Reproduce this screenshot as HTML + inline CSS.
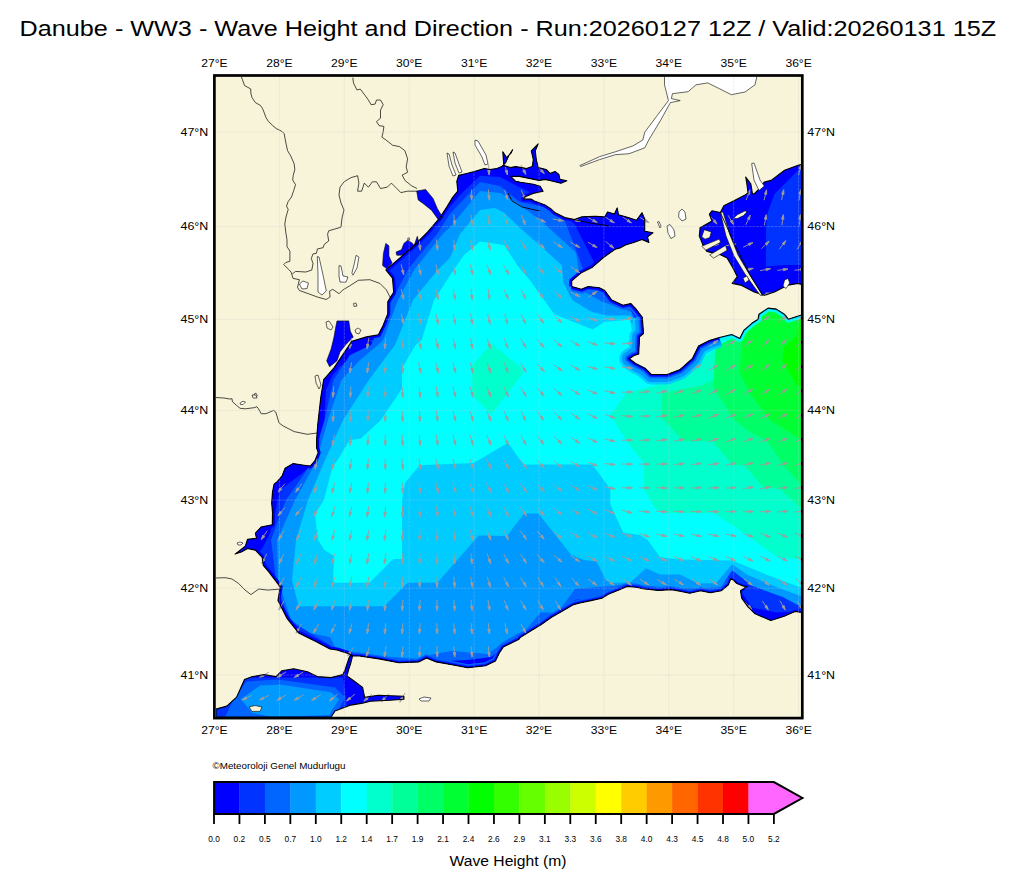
<!DOCTYPE html>
<html><head><meta charset="utf-8"><style>
html,body{margin:0;padding:0;background:#fff;width:1016px;height:888px;overflow:hidden;position:relative;}
</style></head><body>
<svg width="1016" height="888" viewBox="0 0 1016 888" style="position:absolute;left:0;top:0" font-family="Liberation Sans, sans-serif">
<defs><clipPath id="mapc"><rect x="215.8" y="77" width="585.3" height="639.7"/></clipPath>
<clipPath id="seac"><polygon points="351.0,656.0 349.7,654.0 337.0,650.0 330.0,649.0 316.3,641.7 298.6,632.9 286.8,618.1 278.0,600.4 280.2,586.8 269.0,572.1 263.3,565.4 262.2,557.5 255.4,550.1 247.5,548.5 241.9,551.8 235.1,554.1 245.3,546.2 247.5,539.4 256.5,538.3 255.4,533.2 261.1,527.0 272.3,524.8 272.5,512.4 271.7,503.0 272.5,492.0 274.1,484.1 277.2,481.7 282.0,476.2 285.1,468.3 293.0,463.6 304.0,465.2 310.3,466.0 315.0,460.5 318.2,452.6 316.6,447.9 316.6,440.0 317.8,424.0 320.8,397.4 323.7,379.7 334.0,367.9 351.8,341.3 366.5,336.9 378.4,334.8 383.1,325.4 387.8,313.6 387.8,301.7 390.3,297.6 393.7,292.3 392.5,278.1 385.9,269.9 399.7,258.1 415.4,244.3 427.2,232.5 439.1,218.7 446.9,206.9 452.8,197.1 457.8,191.2 456.8,181.3 458.7,175.4 466.6,173.5 474.5,171.5 484.3,168.5 490.0,169.5 496.9,168.5 501.8,166.6 505.7,162.6 508.7,155.7 512.6,149.8 511.2,152.8 506.7,157.7 502.8,151.8 503.8,165.6 510.7,167.6 515.6,166.6 521.5,167.6 526.4,168.5 532.3,166.6 533.3,159.7 531.3,150.8 538.2,143.9 535.3,150.8 536.3,159.7 538.2,167.6 546.1,169.5 550.0,173.5 555.0,171.5 558.9,174.4 559.9,179.4 566.8,180.8 560.9,183.3 553.0,181.3 545.1,179.4 539.2,180.4 529.4,178.4 519.5,176.4 510.7,176.4 515.6,181.3 520.5,182.3 533.3,184.3 540.2,186.3 543.1,191.2 534.3,193.1 529.4,195.1 524.4,197.1 523.5,199.1 531.3,199.1 534.3,201.0 545.1,205.0 551.0,208.9 555.2,212.8 564.8,217.6 574.4,219.6 581.3,216.9 595.1,216.2 604.8,216.9 607.5,212.0 614.4,214.1 617.2,207.9 618.5,214.8 628.2,217.6 636.5,220.3 642.0,212.7 644.7,218.9 644.7,231.3 653.0,232.7 647.5,236.9 648.9,242.4 642.0,239.6 633.7,242.4 625.4,245.1 619.9,247.9 615.1,249.3 603.4,257.5 592.4,267.2 581.3,272.7 571.7,280.9 571.7,286.5 581.3,289.2 588.2,286.5 599.3,287.8 604.8,290.6 611.7,300.0 623.0,305.2 630.9,303.6 636.0,309.0 642.3,317.3 643.5,333.5 639.5,336.7 638.7,354.0 634.0,355.6 629.3,358.7 635.6,363.5 645.0,368.2 651.3,374.5 667.1,374.5 679.7,369.8 692.3,358.7 698.6,346.1 709.4,340.5 719.5,337.5 731.7,334.5 739.8,338.5 743.8,330.4 751.9,323.3 758.0,319.3 759.0,314.2 768.1,308.1 776.3,309.1 784.4,314.2 788.4,319.3 800.6,315.2 803.0,315.0 803.0,612.6 795.0,611.4 784.1,616.3 770.8,620.5 755.1,613.8 747.8,606.6 741.7,598.1 740.5,590.8 746.6,586.6 743.0,586.0 736.9,583.6 733.3,580.0 730.8,578.7 728.4,584.8 721.2,590.8 710.3,592.7 700.6,590.8 689.7,593.3 680.0,591.2 671.2,589.6 658.6,590.4 642.8,588.8 636.5,587.2 627.1,586.5 617.6,590.4 608.2,594.3 601.9,598.3 590.9,600.6 579.8,603.0 573.5,604.6 562.5,610.9 551.5,617.2 540.5,625.0 532.6,629.8 520.0,637.6 519.0,639.2 503.2,647.1 499.3,653.0 495.4,660.9 485.5,665.8 467.8,667.8 452.0,664.8 436.3,661.9 426.5,657.9 418.6,661.9 398.9,662.8 379.2,658.9 359.5,656.0"/></clipPath></defs>
<g clip-path="url(#mapc)">
<rect x="213" y="74" width="592" height="646" fill="#f7f4d9"/>
<g clip-path="url(#seac)">
<rect x="213" y="74" width="592" height="646" fill="#0033ff"/>
<polygon points="375.0,340.0 385.0,320.0 387.0,300.0 389.0,280.0 388.0,272.0 401.0,260.0 417.0,246.0 429.0,234.0 441.0,220.0 449.0,208.0 460.0,195.0 480.0,175.7 500.0,177.0 520.0,187.5 540.0,197.0 560.0,208.0 575.0,225.0 593.0,260.0 603.0,290.0 640.0,290.0 660.0,200.0 540.0,120.0 450.0,140.0 360.0,250.0 360.0,340.0" fill="#0000ff"/>
<polygon points="378.8,346.7 367.0,356.1 350.4,358.5 341.0,365.6 332.7,375.0 326.0,390.0 324.5,420.0 318.0,450.0 316.0,462.0 300.0,475.0 280.0,490.0 277.6,500.0 274.0,520.0 269.4,534.5 261.5,550.0 240.0,555.0 250.0,480.0 300.0,340.0 360.0,335.0" fill="#0000ff"/>
<polygon points="345.0,668.0 330.0,645.0 288.0,620.0 276.0,580.0 271.0,540.0 280.0,515.0 286.0,500.0 300.0,480.0 312.0,462.0 324.5,420.0 333.4,380.0 350.0,355.0 371.0,345.0 392.0,300.0 407.8,270.0 420.0,254.6 437.0,234.0 450.0,213.8 480.0,181.9 500.0,186.0 520.0,202.0 540.0,206.0 560.0,208.0 583.7,270.7 596.5,288.6 609.3,297.6 627.3,305.3 636.4,320.0 650.0,340.0 700.0,300.0 803.0,300.0 803.0,607.8 782.9,596.9 752.6,586.0 732.1,570.3 725.0,580.0 720.0,640.0 350.0,700.0" fill="#0066ff"/>
<polygon points="345.0,666.0 349.0,651.0 379.0,656.0 419.0,659.0 430.0,655.0 440.0,653.0 452.0,651.0 487.5,654.0 497.3,647.0 501.3,643.0 519.0,633.0 524.7,631.3 540.5,612.4 557.8,612.4 575.1,588.8 614.5,585.7 627.0,584.0 642.8,586.0 680.0,588.0 703.0,588.0 721.0,587.0 732.1,570.3 752.6,586.0 782.9,596.9 803.0,607.8 803.0,300.0 760.0,300.0 740.0,340.0 710.0,345.0 690.0,365.0 665.0,382.0 645.0,380.0 628.0,365.0 638.0,345.0 640.0,325.0 634.0,320.0 631.1,311.7 619.6,307.8 601.7,301.4 583.7,291.2 578.6,270.7 576.1,252.8 560.0,238.0 540.0,220.0 520.0,205.0 500.0,193.0 480.0,190.9 450.0,227.3 442.8,234.0 420.0,262.5 414.0,270.0 398.0,300.0 383.0,340.0 378.0,345.0 360.0,360.0 341.3,380.0 328.0,420.0 316.0,462.0 295.0,500.0 277.0,540.0 278.0,580.0 291.0,620.0 310.4,632.9 330.0,637.2" fill="#0099ff"/>
<polygon points="440.0,668.0 448.0,661.0 467.8,660.0 491.4,657.0 499.0,650.0 503.2,647.1 510.0,660.0 480.0,675.0" fill="#0000ff"/>
<polygon points="524.7,640.0 539.0,622.0 559.0,618.0 575.0,600.0 590.0,598.0 603.5,596.0 614.0,592.0 600.0,610.0 530.0,645.0" fill="#0000ff"/>
<polygon points="740.5,589.6 758.7,595.7 789.0,606.6 803.0,608.0 803.0,640.0 735.0,640.0" fill="#0033ff"/>
<polygon points="743.0,594.5 752.6,607.8 776.9,612.6 795.0,611.4 803.0,611.0 803.0,640.0 740.0,640.0" fill="#0000ff"/>
<polygon points="292.0,580.0 298.6,606.3 384.2,606.3 407.9,582.7 437.4,582.7 478.7,535.4 506.8,536.0 524.0,513.4 538.3,513.4 571.3,555.0 584.0,560.0 596.5,561.4 606.0,580.3 612.0,583.0 630.2,582.5 646.0,568.3 660.2,574.6 680.0,574.6 698.2,583.6 716.3,583.0 732.1,564.2 747.8,575.1 776.9,587.2 803.0,597.0 803.0,300.0 760.0,300.0 740.0,335.0 705.0,340.0 690.0,360.0 662.0,373.0 646.0,368.0 636.0,355.0 640.0,330.0 629.0,320.0 631.1,315.5 606.8,315.5 591.4,311.7 572.2,300.1 563.3,282.2 562.0,265.6 545.0,250.0 520.0,228.0 504.0,212.4 495.0,208.0 480.0,210.0 460.0,234.0 450.0,257.7 437.7,270.0 413.0,300.0 397.0,340.0 395.0,345.0 368.8,380.0 343.0,420.0 325.0,460.0 308.0,500.0 296.0,540.0" fill="#00ccff"/>
<polygon points="333.0,580.0 334.0,582.7 369.5,582.7 393.1,559.0 402.0,559.0 402.0,500.0 404.9,483.0 419.7,465.3 473.6,463.0 508.0,442.8 523.3,464.5 592.4,464.5 610.3,488.9 610.3,504.2 623.1,532.4 640.0,534.9 647.6,540.0 660.2,557.3 680.0,559.4 732.1,560.6 764.7,573.9 803.0,588.4 803.0,300.0 760.0,300.0 700.0,345.0 690.0,368.0 665.0,382.0 640.0,378.0 625.0,362.0 632.0,350.0 633.0,335.0 630.0,321.0 632.4,319.3 604.2,321.9 592.7,329.6 554.3,314.2 529.6,280.0 517.8,266.0 504.0,245.0 480.0,241.6 464.0,255.0 453.5,270.0 434.0,300.0 421.7,340.0 415.6,345.0 402.0,367.9 402.0,388.6 380.9,420.0 360.6,438.8 349.7,440.0 337.6,460.0 332.4,466.8 324.0,500.0 315.0,514.0 318.0,540.0 324.5,550.0 334.0,556.1" fill="#00ffff"/>
<polygon points="491.3,343.5 522.3,368.6 522.3,374.5 491.3,414.3 472.1,395.1 472.1,365.6" fill="#00ffcc"/>
<polygon points="610.7,415.1 625.8,393.1 647.9,387.6 679.6,377.9 697.5,360.0 745.0,332.0 760.0,300.0 803.0,300.0 803.0,560.0 776.4,556.4 742.7,532.3 713.8,513.1 668.9,513.1 656.0,509.8 644.0,489.0 644.0,463.3 625.8,439.9" fill="#00ffcc"/>
<polygon points="661.7,393.1 700.0,386.0 714.0,380.0 745.0,332.0 760.0,300.0 803.0,300.0 803.0,509.8 779.6,489.0 763.5,487.4 744.3,464.9 733.1,464.9 712.2,440.9 683.3,440.9 664.1,420.0 661.7,419.3" fill="#00ff99"/>
<polygon points="745.0,332.0 715.4,346.6 713.4,387.2 733.7,419.6 750.0,432.0 766.7,440.9 784.4,466.5 801.0,484.2 803.0,484.0 803.0,300.0 760.0,300.0" fill="#00ff66"/>
<polygon points="752.0,326.0 741.8,340.5 739.8,373.0 749.9,393.3 770.0,420.0 800.4,439.3 803.0,440.0 803.0,300.0 780.0,300.0" fill="#00ff33"/>
<polygon points="800.0,318.0 796.5,336.5 784.4,346.6 782.3,360.8 796.5,385.1 803.0,389.2 803.0,300.0 790.0,300.0" fill="#00ff00"/>
<polyline points="571.7,286.5 581.3,289.2 588.2,286.5 599.3,287.8 604.8,290.6 611.7,300.0 623.0,305.2 630.9,303.6 636.0,309.0 642.3,317.3" fill="none" stroke="#0066ff" stroke-width="9" stroke-linejoin="round"/>
<polyline points="571.7,286.5 581.3,289.2 588.2,286.5 599.3,287.8 604.8,290.6 611.7,300.0 623.0,305.2 630.9,303.6 636.0,309.0 642.3,317.3" fill="none" stroke="#0033ff" stroke-width="5.5" stroke-linejoin="round"/>
<polyline points="571.7,286.5 581.3,289.2 588.2,286.5 599.3,287.8 604.8,290.6 611.7,300.0 623.0,305.2 630.9,303.6 636.0,309.0 642.3,317.3" fill="none" stroke="#0000ff" stroke-width="4.5" stroke-linejoin="round"/>
<polyline points="642.3,317.3 643.5,333.5 639.5,336.7 638.7,354.0 634.0,355.6 629.3,358.7 635.6,363.5 645.0,368.2 651.3,374.5 667.1,374.5 679.7,369.8 692.3,358.7 698.6,346.1 709.4,340.5 719.5,337.5" fill="none" stroke="#00ccff" stroke-width="20" stroke-linejoin="round"/>
<polyline points="642.3,317.3 643.5,333.5 639.5,336.7 638.7,354.0 634.0,355.6 629.3,358.7 635.6,363.5 645.0,368.2 651.3,374.5 667.1,374.5 679.7,369.8 692.3,358.7 698.6,346.1 709.4,340.5 719.5,337.5" fill="none" stroke="#0099ff" stroke-width="15" stroke-linejoin="round"/>
<polyline points="642.3,317.3 643.5,333.5 639.5,336.7 638.7,354.0 634.0,355.6 629.3,358.7 635.6,363.5 645.0,368.2 651.3,374.5 667.1,374.5 679.7,369.8 692.3,358.7 698.6,346.1 709.4,340.5 719.5,337.5" fill="none" stroke="#0066ff" stroke-width="8" stroke-linejoin="round"/>
<polyline points="642.3,317.3 643.5,333.5 639.5,336.7 638.7,354.0 634.0,355.6 629.3,358.7 635.6,363.5 645.0,368.2 651.3,374.5 667.1,374.5 679.7,369.8 692.3,358.7 698.6,346.1 709.4,340.5 719.5,337.5" fill="none" stroke="#0033ff" stroke-width="5" stroke-linejoin="round"/>
<polyline points="642.3,317.3 643.5,333.5 639.5,336.7 638.7,354.0 634.0,355.6 629.3,358.7 635.6,363.5 645.0,368.2 651.3,374.5 667.1,374.5 679.7,369.8 692.3,358.7 698.6,346.1 709.4,340.5 719.5,337.5" fill="none" stroke="#0000ff" stroke-width="3.5" stroke-linejoin="round"/>
<polyline points="719.5,337.5 731.7,334.5 739.8,338.5 743.8,330.4 751.9,323.3 758.0,319.3 759.0,314.2 768.1,308.1 776.3,309.1 784.4,314.2 788.4,319.3 800.6,315.2 803.0,315.0" fill="none" stroke="#00ffcc" stroke-width="7" stroke-linejoin="round"/>
<polyline points="719.5,337.5 731.7,334.5 739.8,338.5 743.8,330.4 751.9,323.3 758.0,319.3 759.0,314.2 768.1,308.1 776.3,309.1 784.4,314.2 788.4,319.3 800.6,315.2 803.0,315.0" fill="none" stroke="#00ffff" stroke-width="5" stroke-linejoin="round"/>
<polyline points="719.5,337.5 731.7,334.5 739.8,338.5 743.8,330.4 751.9,323.3 758.0,319.3 759.0,314.2 768.1,308.1 776.3,309.1 784.4,314.2 788.4,319.3 800.6,315.2 803.0,315.0" fill="none" stroke="#00ccff" stroke-width="2.5" stroke-linejoin="round"/>
<polyline points="803.0,612.6 795.0,611.4 784.1,616.3 770.8,620.5 755.1,613.8 747.8,606.6 741.7,598.1 740.5,590.8 746.6,586.6 743.0,586.0 736.9,583.6 733.3,580.0 730.8,578.7" fill="none" stroke="#0000ff" stroke-width="3" stroke-linejoin="round"/>
<polyline points="730.8,578.7 728.4,584.8 721.2,590.8 710.3,592.7 700.6,590.8 689.7,593.3 680.0,591.2 671.2,589.6 658.6,590.4 642.8,588.8 636.5,587.2 627.1,586.5 617.6,590.4 608.2,594.3 601.9,598.3 590.9,600.6 579.8,603.0 573.5,604.6 562.5,610.9 551.5,617.2 540.5,625.0 532.6,629.8 520.0,637.6 519.0,639.2 503.2,647.1 499.3,653.0 495.4,660.9 485.5,665.8 467.8,667.8 452.0,664.8 436.3,661.9 426.5,657.9 418.6,661.9 398.9,662.8 379.2,658.9 359.5,656.0 351.0,656.0" fill="none" stroke="#0066ff" stroke-width="7" stroke-linejoin="round"/>
<polyline points="730.8,578.7 728.4,584.8 721.2,590.8 710.3,592.7 700.6,590.8 689.7,593.3 680.0,591.2 671.2,589.6 658.6,590.4 642.8,588.8 636.5,587.2 627.1,586.5 617.6,590.4 608.2,594.3 601.9,598.3 590.9,600.6 579.8,603.0 573.5,604.6 562.5,610.9 551.5,617.2 540.5,625.0 532.6,629.8 520.0,637.6 519.0,639.2 503.2,647.1 499.3,653.0 495.4,660.9 485.5,665.8 467.8,667.8 452.0,664.8 436.3,661.9 426.5,657.9 418.6,661.9 398.9,662.8 379.2,658.9 359.5,656.0 351.0,656.0" fill="none" stroke="#0033ff" stroke-width="4.5" stroke-linejoin="round"/>
<polyline points="730.8,578.7 728.4,584.8 721.2,590.8 710.3,592.7 700.6,590.8 689.7,593.3 680.0,591.2 671.2,589.6 658.6,590.4 642.8,588.8 636.5,587.2 627.1,586.5 617.6,590.4 608.2,594.3 601.9,598.3 590.9,600.6 579.8,603.0 573.5,604.6 562.5,610.9 551.5,617.2 540.5,625.0 532.6,629.8 520.0,637.6 519.0,639.2 503.2,647.1 499.3,653.0 495.4,660.9 485.5,665.8 467.8,667.8 452.0,664.8 436.3,661.9 426.5,657.9 418.6,661.9 398.9,662.8 379.2,658.9 359.5,656.0 351.0,656.0" fill="none" stroke="#0000ff" stroke-width="2.5" stroke-linejoin="round"/>
<polyline points="351.0,656.0 349.7,654.0 337.0,650.0 330.0,649.0 316.3,641.7 298.6,632.9 286.8,618.1 278.0,600.4 280.2,586.8 269.0,572.1 263.3,565.4 262.2,557.5 255.4,550.1 247.5,548.5 241.9,551.8 235.1,554.1 245.3,546.2 247.5,539.4 256.5,538.3 255.4,533.2 261.1,527.0 272.3,524.8 272.5,512.4 271.7,503.0 272.5,492.0 274.1,484.1 277.2,481.7 282.0,476.2 285.1,468.3 293.0,463.6 304.0,465.2 310.3,466.0 315.0,460.5 318.2,452.6 316.6,447.9 316.6,440.0 317.8,424.0 320.8,397.4 323.7,379.7 334.0,367.9 351.8,341.3 366.5,336.9 378.4,334.8 383.1,325.4 387.8,313.6 387.8,301.7 390.3,297.6 393.7,292.3 392.5,278.1 385.9,269.9 399.7,258.1 415.4,244.3 427.2,232.5 439.1,218.7 446.9,206.9 452.8,197.1 457.8,191.2 456.8,181.3 458.7,175.4 466.6,173.5 474.5,171.5 484.3,168.5 490.0,169.5 496.9,168.5 501.8,166.6 505.7,162.6 508.7,155.7 512.6,149.8 511.2,152.8 506.7,157.7 502.8,151.8 503.8,165.6 510.7,167.6 515.6,166.6 521.5,167.6 526.4,168.5 532.3,166.6 533.3,159.7 531.3,150.8 538.2,143.9 535.3,150.8 536.3,159.7 538.2,167.6 546.1,169.5 550.0,173.5 555.0,171.5 558.9,174.4 559.9,179.4 566.8,180.8 560.9,183.3 553.0,181.3 545.1,179.4 539.2,180.4 529.4,178.4 519.5,176.4 510.7,176.4 515.6,181.3 520.5,182.3 533.3,184.3 540.2,186.3 543.1,191.2 534.3,193.1 529.4,195.1 524.4,197.1 523.5,199.1 531.3,199.1 534.3,201.0 545.1,205.0 551.0,208.9 555.2,212.8 564.8,217.6 574.4,219.6 581.3,216.9 595.1,216.2 604.8,216.9 607.5,212.0 614.4,214.1 617.2,207.9 618.5,214.8 628.2,217.6 636.5,220.3 642.0,212.7 644.7,218.9 644.7,231.3 653.0,232.7 647.5,236.9 648.9,242.4 642.0,239.6 633.7,242.4 625.4,245.1 619.9,247.9 615.1,249.3 603.4,257.5 592.4,267.2 581.3,272.7 571.7,280.9 571.7,286.5" fill="none" stroke="#0000ff" stroke-width="5" stroke-linejoin="round"/>
</g>
<polygon points="798.1,165.2 784.6,170.3 771.1,180.4 764.3,182.1 757.6,190.5 754.2,193.9 752.5,193.9 750.8,183.8 745.7,177.0 747.0,185.0 748.0,193.0 744.1,195.6 733.9,200.7 723.8,205.7 720.4,212.5 712.0,210.8 709.4,214.2 712.0,221.0 700.1,227.7 699.3,236.1 703.5,246.3 706.9,251.4 720.4,254.7 727.2,258.1 732.2,266.6 737.3,276.7 732.2,283.4 740.7,285.1 754.2,291.9 764.3,295.3 774.5,291.9 788.0,285.1 798.1,283.4 803.0,285.0 803.0,164.0" fill="#0000ff"/>
<clipPath id="azc"><polygon points="798.1,165.2 784.6,170.3 771.1,180.4 764.3,182.1 757.6,190.5 754.2,193.9 752.5,193.9 750.8,183.8 745.7,177.0 747.0,185.0 748.0,193.0 744.1,195.6 733.9,200.7 723.8,205.7 720.4,212.5 712.0,210.8 709.4,214.2 712.0,221.0 700.1,227.7 699.3,236.1 703.5,246.3 706.9,251.4 720.4,254.7 727.2,258.1 732.2,266.6 737.3,276.7 732.2,283.4 740.7,285.1 754.2,291.9 764.3,295.3 774.5,291.9 788.0,285.1 798.1,283.4 803.0,285.0 803.0,164.0"/></clipPath>
<g clip-path="url(#azc)"><polygon points="803.0,168.0 798.1,170.3 774.5,193.9 767.7,212.5 766.0,227.7 766.0,266.6 784.6,264.9 803.0,264.9" fill="#0033ff"/></g>
<polygon points="216.0,709.1 226.8,706.1 236.6,697.2 244.5,679.5 252.4,676.6 264.2,674.6 276.0,676.6 281.9,670.7 293.7,668.7 307.5,671.7 317.3,676.6 331.1,677.6 342.9,674.6 345.0,670.0 347.0,664.0 349.0,658.0 350.5,655.0 352.5,656.0 350.5,664.0 348.5,670.0 347.0,676.0 354.7,681.5 362.6,687.4 364.6,697.2 378.3,695.3 403.9,696.3 403.9,699.2 390.2,700.2 370.5,701.2 362.6,703.1 350.8,705.1 335.0,711.0 331.1,717.0 216.0,717.0" fill="#0000ff"/>
<clipPath id="mac"><polygon points="216.0,709.1 226.8,706.1 236.6,697.2 244.5,679.5 252.4,676.6 264.2,674.6 276.0,676.6 281.9,670.7 293.7,668.7 307.5,671.7 317.3,676.6 331.1,677.6 342.9,674.6 345.0,670.0 347.0,664.0 349.0,658.0 350.5,655.0 352.5,656.0 350.5,664.0 348.5,670.0 347.0,676.0 354.7,681.5 362.6,687.4 364.6,697.2 378.3,695.3 403.9,696.3 403.9,699.2 390.2,700.2 370.5,701.2 362.6,703.1 350.8,705.1 335.0,711.0 331.1,717.0 216.0,717.0"/></clipPath>
<g clip-path="url(#mac)"><polygon points="216.0,703.0 224.8,707.1 245.5,677.6 342.9,677.6 348.8,717.0 216.0,717.0" fill="#0033ff"/><polygon points="234.7,697.2 246.5,681.5 278.0,679.5 335.0,687.4 345.0,697.2 335.0,717.0 225.0,717.0" fill="#0066ff"/><polygon points="240.6,699.2 260.2,685.4 280.0,684.4 331.1,692.3 339.0,699.2 329.1,715.0 272.0,717.0 252.4,713.0" fill="#0099ff"/></g>
<polygon points="416.7,191.0 425.6,189.5 433.0,198.4 437.4,208.7 442.7,217.6 438.9,220.5 431.5,210.2 424.1,204.3 418.2,199.9" fill="#0000ff" stroke="#000" stroke-width="0.6"/>
<polygon points="385.8,243.4 388.9,245.8 388.9,256.0 392.1,263.1 386.5,268.5 382.6,265.5 383.4,253.6" fill="#0000ff" stroke="#000" stroke-width="0.6"/>
<polygon points="396.0,252.1 401.5,249.7 403.9,243.4 407.8,240.2 412.6,243.4 414.1,245.8 417.3,236.3 418.9,242.6 412.6,248.1 401.5,255.2 396.8,255.2" fill="#0000ff" stroke="#000" stroke-width="0.6"/>
<polygon points="337.0,320.9 348.8,320.9 350.3,331.2 353.2,337.1 345.9,344.5 340.0,351.9 337.0,360.8 329.6,366.7 326.7,360.8 331.1,349.0 334.0,337.1 335.5,328.3" fill="#0000ff" stroke="#000" stroke-width="0.6"/>
<g fill="#a09c9c" stroke="#a09c9c" stroke-width="0.9">
<path d="M251.8 695.4L246.2 698.0M242.0 699.9L245.7 696.9L246.7 699.1Z"/>
<path d="M269.1 695.3L263.5 698.0M259.4 700.0L263.0 696.9L264.0 699.1Z"/>
<path d="M286.2 694.9L280.8 698.0M276.8 700.3L280.2 697.0L281.4 699.1Z"/>
<path d="M303.5 694.9L298.1 698.0M294.1 700.3L297.5 697.0L298.7 699.1Z"/>
<path d="M320.7 694.8L315.4 698.1M311.5 700.5L314.7 697.0L316.0 699.1Z"/>
<path d="M337.5 694.2L332.7 698.2M329.2 701.1L332.0 697.2L333.5 699.1Z"/>
<path d="M354.8 694.2L350.0 698.2M346.5 701.1L349.2 697.2L350.8 699.1Z"/>
<path d="M372.0 694.1L367.3 698.2M363.8 701.2L366.5 697.3L368.1 699.1Z"/>
<path d="M388.9 693.7L384.6 698.2M381.5 701.6L383.8 697.4L385.5 699.0Z"/>
<path d="M405.1 692.9L402.1 698.3M399.8 702.4L401.0 697.8L403.1 698.9Z"/>
<path d="M269.0 672.1L263.5 675.1M259.5 677.3L262.9 674.0L264.1 676.2Z"/>
<path d="M286.1 671.9L280.8 675.1M276.9 677.5L280.2 674.1L281.4 676.2Z"/>
<path d="M303.4 671.9L298.1 675.1M294.2 677.5L297.5 674.1L298.7 676.2Z"/>
<path d="M353.7 647.3L350.2 652.4M347.6 656.1L349.2 651.7L351.2 653.0Z"/>
<path d="M369.6 646.6L367.6 652.5M366.2 656.8L366.5 652.1L368.8 652.8Z"/>
<path d="M385.9 646.4L385.1 652.5M384.4 657.0L383.9 652.3L386.3 652.7Z"/>
<path d="M403.0 646.3L402.4 652.5M401.9 657.1L401.2 652.4L403.6 652.6Z"/>
<path d="M420.1 646.3L419.7 652.5M419.4 657.1L418.5 652.4L420.9 652.6Z"/>
<path d="M436.8 646.3L437.1 652.5M437.2 657.1L435.9 652.5L438.3 652.4Z"/>
<path d="M453.8 646.3L454.4 652.5M454.8 657.1L453.2 652.6L455.6 652.4Z"/>
<path d="M471.1 646.3L471.7 652.5M472.1 657.1L470.5 652.6L472.8 652.4Z"/>
<path d="M488.3 646.3L488.9 652.5M489.4 657.1L487.8 652.6L490.1 652.4Z"/>
<path d="M301.5 623.9L298.4 629.3M296.0 633.2L297.3 628.7L299.4 629.9Z"/>
<path d="M318.8 623.9L315.7 629.3M313.3 633.3L314.6 628.7L316.7 629.9Z"/>
<path d="M335.7 623.7L333.0 629.3M331.0 633.4L331.9 628.8L334.1 629.8Z"/>
<path d="M352.1 623.4L350.4 629.4M349.1 633.8L349.2 629.0L351.6 629.7Z"/>
<path d="M368.6 623.2L367.8 629.4M367.2 633.9L366.6 629.2L369.0 629.5Z"/>
<path d="M385.7 623.2L385.1 629.4M384.7 634.0L383.9 629.3L386.3 629.5Z"/>
<path d="M402.9 623.2L402.4 629.4M402.0 634.0L401.2 629.3L403.6 629.5Z"/>
<path d="M420.2 623.2L419.7 629.4M419.3 634.0L418.5 629.3L420.9 629.5Z"/>
<path d="M436.8 623.2L437.0 629.4M437.2 634.0L435.8 629.4L438.2 629.3Z"/>
<path d="M453.8 623.2L454.4 629.4M454.8 634.0L453.2 629.5L455.6 629.3Z"/>
<path d="M471.1 623.2L471.6 629.4M472.1 634.0L470.5 629.5L472.8 629.3Z"/>
<path d="M488.4 623.2L488.9 629.4M489.4 634.0L487.7 629.5L490.1 629.3Z"/>
<path d="M505.0 623.3L506.3 629.4M507.3 633.9L505.1 629.6L507.5 629.1Z"/>
<path d="M521.0 623.8L523.8 629.3M525.9 633.4L522.7 629.8L524.9 628.8Z"/>
<path d="M284.2 600.7L281.1 606.1M278.8 610.1L280.1 605.5L282.1 606.7Z"/>
<path d="M301.5 600.7L298.4 606.1M296.1 610.1L297.3 605.5L299.4 606.7Z"/>
<path d="M318.5 600.6L315.7 606.1M313.6 610.2L314.6 605.5L316.8 606.6Z"/>
<path d="M335.2 600.3L333.1 606.1M331.4 610.4L331.9 605.7L334.2 606.6Z"/>
<path d="M351.8 600.1L350.4 606.2M349.4 610.6L349.3 605.9L351.6 606.4Z"/>
<path d="M368.5 600.0L367.8 606.2M367.3 610.7L366.6 606.0L369.0 606.3Z"/>
<path d="M385.7 600.0L385.1 606.2M384.7 610.8L383.9 606.1L386.3 606.3Z"/>
<path d="M402.9 600.0L402.4 606.2M402.0 610.8L401.2 606.1L403.6 606.3Z"/>
<path d="M420.1 600.0L419.7 606.2M419.3 610.8L418.5 606.1L420.9 606.3Z"/>
<path d="M436.9 600.0L437.0 606.2M437.1 610.8L435.8 606.2L438.2 606.2Z"/>
<path d="M453.8 600.0L454.4 606.2M454.8 610.8L453.2 606.3L455.6 606.1Z"/>
<path d="M471.0 600.0L471.7 606.2M472.1 610.8L470.5 606.3L472.9 606.1Z"/>
<path d="M488.0 600.0L489.0 606.2M489.7 610.7L487.8 606.4L490.2 606.0Z"/>
<path d="M504.2 600.3L506.4 606.1M508.1 610.4L505.3 606.6L507.5 605.7Z"/>
<path d="M520.7 600.7L523.8 606.1M526.1 610.1L522.8 606.7L524.9 605.5Z"/>
<path d="M538.0 600.7L541.1 606.1M543.4 610.1L540.1 606.7L542.1 605.5Z"/>
<path d="M555.3 600.7L558.4 606.1M560.7 610.1L557.3 606.7L559.4 605.5Z"/>
<path d="M744.4 601.4L748.6 606.0M751.8 609.3L747.7 606.8L749.5 605.1Z"/>
<path d="M762.4 600.9L765.8 606.1M768.3 609.9L764.8 606.7L766.8 605.4Z"/>
<path d="M779.9 600.7L783.0 606.1M785.3 610.1L782.0 606.7L784.1 605.5Z"/>
<path d="M796.8 601.0L800.4 606.0M803.0 609.8L799.4 606.7L801.3 605.3Z"/>
<path d="M284.2 577.4L281.1 582.8M278.8 586.8L280.1 582.2L282.2 583.4Z"/>
<path d="M301.2 577.3L298.4 582.8M296.3 586.9L297.3 582.2L299.5 583.3Z"/>
<path d="M318.0 577.0L315.8 582.8M314.1 587.1L314.7 582.4L316.9 583.3Z"/>
<path d="M334.9 576.9L333.1 582.8M331.7 587.2L332.0 582.5L334.3 583.2Z"/>
<path d="M351.8 576.8L350.4 582.9M349.4 587.3L349.3 582.6L351.6 583.1Z"/>
<path d="M368.8 576.8L367.8 582.9M367.0 587.4L366.6 582.7L368.9 583.1Z"/>
<path d="M385.9 576.7L385.1 582.9M384.5 587.4L383.9 582.7L386.3 583.0Z"/>
<path d="M402.8 576.7L402.4 582.9M402.1 587.5L401.2 582.8L403.6 583.0Z"/>
<path d="M419.8 576.7L419.7 582.9M419.6 587.5L418.5 582.9L420.9 582.9Z"/>
<path d="M436.9 576.7L437.0 582.9M437.2 587.5L435.8 582.9L438.2 582.8Z"/>
<path d="M453.8 576.7L454.4 582.9M454.8 587.5L453.2 583.0L455.6 582.8Z"/>
<path d="M470.7 576.7L471.7 582.9M472.4 587.4L470.5 583.1L472.9 582.7Z"/>
<path d="M487.3 576.9L489.1 582.8M490.4 587.2L487.9 583.2L490.2 582.5Z"/>
<path d="M503.7 577.2L506.5 582.8M508.6 586.9L505.4 583.3L507.6 582.3Z"/>
<path d="M520.6 577.5L523.8 582.8M526.3 586.7L522.8 583.4L524.9 582.1Z"/>
<path d="M537.9 577.5L541.1 582.8M543.5 586.7L540.1 583.4L542.1 582.1Z"/>
<path d="M555.1 577.5L558.4 582.8M560.8 586.7L557.4 583.4L559.4 582.1Z"/>
<path d="M571.6 578.1L575.8 582.7M578.9 586.0L574.9 583.5L576.7 581.8Z"/>
<path d="M588.0 579.1L593.2 582.5M597.0 585.1L592.5 583.5L593.9 581.5Z"/>
<path d="M605.4 579.0L610.5 582.5M614.3 585.2L609.8 583.5L611.2 581.5Z"/>
<path d="M622.7 579.0L627.8 582.5M631.5 585.2L627.1 583.5L628.4 581.6Z"/>
<path d="M639.8 579.2L645.1 582.5M649.0 584.9L644.4 583.5L645.7 581.5Z"/>
<path d="M656.9 579.5L662.4 582.5M666.4 584.7L661.8 583.5L662.9 581.4Z"/>
<path d="M674.4 579.2L679.6 582.5M683.5 585.0L679.0 583.5L680.3 581.5Z"/>
<path d="M691.8 579.0L696.9 582.5M700.6 585.2L696.2 583.5L697.6 581.6Z"/>
<path d="M709.0 579.1L714.2 582.5M718.0 585.1L713.5 583.5L714.8 581.5Z"/>
<path d="M743.8 578.8L748.7 582.6M752.4 585.3L748.0 583.5L749.4 581.6Z"/>
<path d="M761.0 578.8L766.0 582.6M769.6 585.4L765.2 583.5L766.7 581.6Z"/>
<path d="M778.2 579.0L783.3 582.5M787.0 585.2L782.6 583.5L784.0 581.6Z"/>
<path d="M795.7 578.7L800.5 582.6M804.1 585.4L799.8 583.5L801.3 581.6Z"/>
<path d="M266.7 553.9L263.9 559.4M261.8 563.5L262.8 558.8L264.9 559.9Z"/>
<path d="M283.8 553.8L281.2 559.4M279.2 563.6L280.1 558.9L282.3 559.9Z"/>
<path d="M301.0 553.8L298.4 559.4M296.5 563.6L297.4 558.9L299.5 559.9Z"/>
<path d="M317.5 553.5L315.8 559.4M314.6 563.9L314.7 559.1L317.0 559.8Z"/>
<path d="M334.8 553.5L333.1 559.4M331.9 563.9L332.0 559.1L334.3 559.8Z"/>
<path d="M351.7 553.4L350.5 559.5M349.6 564.0L349.3 559.2L351.6 559.7Z"/>
<path d="M368.8 553.4L367.8 559.5M367.0 564.0L366.6 559.3L368.9 559.7Z"/>
<path d="M386.1 553.4L385.0 559.5M384.3 564.0L383.9 559.3L386.2 559.7Z"/>
<path d="M402.8 553.3L402.4 559.5M402.1 564.1L401.2 559.4L403.6 559.6Z"/>
<path d="M419.9 553.3L419.7 559.5M419.6 564.1L418.5 559.4L420.9 559.5Z"/>
<path d="M437.2 553.3L437.0 559.5M436.9 564.1L435.8 559.4L438.2 559.5Z"/>
<path d="M453.8 553.3L454.4 559.5M454.8 564.1L453.2 559.6L455.6 559.4Z"/>
<path d="M471.0 553.3L471.7 559.5M472.1 564.0L470.5 559.6L472.9 559.3Z"/>
<path d="M487.2 553.5L489.1 559.4M490.6 563.8L488.0 559.8L490.3 559.1Z"/>
<path d="M503.7 553.9L506.5 559.4M508.6 563.5L505.4 559.9L507.6 558.8Z"/>
<path d="M520.4 554.2L523.9 559.3M526.5 563.1L522.9 560.0L524.9 558.7Z"/>
<path d="M537.1 554.6L541.2 559.3M544.3 562.7L540.3 560.1L542.1 558.5Z"/>
<path d="M553.9 555.1L558.6 559.2M562.0 562.2L557.8 560.1L559.4 558.3Z"/>
<path d="M570.8 555.7L575.9 559.1M579.8 561.7L575.3 560.1L576.6 558.1Z"/>
<path d="M587.8 556.1L593.2 559.1M597.3 561.2L592.7 560.1L593.8 558.0Z"/>
<path d="M604.9 556.4L610.5 559.0M614.7 561.0L610.0 560.1L611.1 557.9Z"/>
<path d="M622.2 556.4L627.8 559.0M632.0 561.0L627.3 560.1L628.3 557.9Z"/>
<path d="M639.5 556.4L645.1 559.0M649.3 560.9L644.6 560.1L645.6 557.9Z"/>
<path d="M656.7 556.6L662.4 559.0M666.6 560.8L661.9 560.1L662.9 557.9Z"/>
<path d="M674.0 556.6L679.7 559.0M683.9 560.8L679.2 560.1L680.1 557.9Z"/>
<path d="M691.2 556.7L697.0 559.0M701.2 560.7L696.5 560.1L697.4 557.9Z"/>
<path d="M708.5 556.6L714.2 559.0M718.5 560.7L713.8 560.1L714.7 557.9Z"/>
<path d="M725.8 556.5L731.5 559.0M735.7 560.9L731.0 560.1L732.0 557.9Z"/>
<path d="M743.3 556.2L748.8 559.0M752.9 561.1L748.2 560.1L749.3 558.0Z"/>
<path d="M760.5 556.3L766.1 559.0M770.2 561.0L765.5 560.1L766.6 557.9Z"/>
<path d="M777.7 556.4L783.3 559.0M787.5 561.0L782.8 560.1L783.9 557.9Z"/>
<path d="M795.1 556.2L800.6 559.0M804.7 561.1L800.1 560.1L801.2 558.0Z"/>
<path d="M267.2 530.7L263.8 535.8M261.2 539.7L262.8 535.2L264.8 536.5Z"/>
<path d="M284.2 530.5L281.1 535.9M278.8 539.8L280.1 535.3L282.1 536.5Z"/>
<path d="M301.0 530.3L298.4 535.9M296.5 540.1L297.4 535.4L299.5 536.4Z"/>
<path d="M317.7 530.0L315.8 535.9M314.5 540.3L314.7 535.6L317.0 536.3Z"/>
<path d="M334.8 530.0L333.1 535.9M331.9 540.4L332.0 535.6L334.3 536.3Z"/>
<path d="M351.7 529.9L350.5 536.0M349.5 540.5L349.3 535.7L351.6 536.2Z"/>
<path d="M368.8 529.9L367.8 536.0M367.0 540.5L366.6 535.8L368.9 536.2Z"/>
<path d="M386.1 529.8L385.0 536.0M384.3 540.5L383.9 535.8L386.2 536.2Z"/>
<path d="M402.8 529.8L402.4 536.0M402.1 540.6L401.2 535.9L403.6 536.1Z"/>
<path d="M419.9 529.8L419.7 536.0M419.6 540.6L418.5 535.9L420.9 536.0Z"/>
<path d="M437.1 529.8L437.0 536.0M436.9 540.6L435.8 536.0L438.2 536.0Z"/>
<path d="M453.8 529.8L454.4 536.0M454.8 540.6L453.2 536.1L455.6 535.9Z"/>
<path d="M470.2 529.9L471.8 536.0M472.9 540.4L470.6 536.2L472.9 535.7Z"/>
<path d="M487.0 530.1L489.1 535.9M490.7 540.2L488.0 536.3L490.3 535.5Z"/>
<path d="M503.9 530.3L506.5 535.9M508.4 540.1L505.4 536.4L507.6 535.4Z"/>
<path d="M520.3 530.8L523.9 535.8M526.5 539.6L522.9 536.5L524.9 535.1Z"/>
<path d="M537.2 531.0L541.2 535.8M544.2 539.3L540.3 536.6L542.1 535.0Z"/>
<path d="M553.8 531.7L558.6 535.7M562.1 538.6L557.8 536.6L559.4 534.8Z"/>
<path d="M570.6 532.5L576.0 535.6M579.9 537.9L575.4 536.6L576.6 534.5Z"/>
<path d="M587.8 532.6L593.2 535.6M597.3 537.7L592.7 536.6L593.8 534.5Z"/>
<path d="M604.8 533.2L610.6 535.5M614.8 537.2L610.1 536.6L611.0 534.4Z"/>
<path d="M622.0 533.5L627.9 535.4M632.2 536.8L627.5 536.6L628.2 534.3Z"/>
<path d="M639.2 533.5L645.1 535.4M649.5 536.8L644.8 536.6L645.5 534.3Z"/>
<path d="M656.4 534.0L662.4 535.4M666.9 536.4L662.2 536.5L662.7 534.2Z"/>
<path d="M673.7 534.0L679.7 535.3M684.2 536.3L679.5 536.5L680.0 534.2Z"/>
<path d="M691.0 534.0L697.0 535.4M701.5 536.4L696.7 536.5L697.3 534.2Z"/>
<path d="M708.2 534.0L714.3 535.3M718.8 536.3L714.0 536.5L714.5 534.2Z"/>
<path d="M725.5 534.1L731.6 535.3M736.1 536.3L731.3 536.5L731.8 534.2Z"/>
<path d="M742.9 533.7L748.8 535.4M753.3 536.6L748.5 536.5L749.2 534.2Z"/>
<path d="M760.3 533.2L766.1 535.5M770.4 537.2L765.6 536.6L766.5 534.4Z"/>
<path d="M777.6 533.1L783.4 535.5M787.6 537.3L782.9 536.6L783.8 534.4Z"/>
<path d="M794.8 533.3L800.7 535.4M805.0 537.0L800.2 536.6L801.1 534.3Z"/>
<path d="M285.0 507.4L281.0 512.2M278.0 515.7L280.1 511.4L281.9 513.0Z"/>
<path d="M302.2 507.4L298.3 512.2M295.4 515.8L297.3 511.4L299.2 512.9Z"/>
<path d="M318.5 506.8L315.7 512.3M313.6 516.4L314.6 511.7L316.8 512.8Z"/>
<path d="M335.0 506.4L333.1 512.3M331.6 516.7L331.9 512.0L334.2 512.7Z"/>
<path d="M351.8 506.3L350.4 512.4M349.4 516.8L349.3 512.1L351.6 512.6Z"/>
<path d="M368.8 506.2L367.8 512.4M367.0 516.9L366.6 512.2L369.0 512.6Z"/>
<path d="M385.7 506.2L385.1 512.4M384.6 516.9L383.9 512.2L386.3 512.5Z"/>
<path d="M402.5 506.2L402.5 512.4M402.4 517.0L401.3 512.4L403.7 512.4Z"/>
<path d="M419.5 506.2L419.8 512.4M420.0 517.0L418.6 512.4L421.0 512.3Z"/>
<path d="M436.4 506.2L437.1 512.4M437.6 516.9L435.9 512.5L438.3 512.2Z"/>
<path d="M453.1 506.3L454.5 512.4M455.5 516.8L453.3 512.6L455.7 512.1Z"/>
<path d="M469.8 506.5L471.8 512.3M473.4 516.7L470.7 512.7L473.0 511.9Z"/>
<path d="M486.8 506.6L489.2 512.3M490.9 516.6L488.0 512.8L490.3 511.9Z"/>
<path d="M503.7 506.8L506.5 512.3M508.6 516.4L505.4 512.8L507.6 511.7Z"/>
<path d="M520.3 507.1L523.9 512.2M526.5 516.0L522.9 512.9L524.9 511.5Z"/>
<path d="M537.1 507.5L541.2 512.2M544.3 515.6L540.3 513.0L542.1 511.4Z"/>
<path d="M553.8 508.1L558.6 512.1M562.1 515.0L557.8 513.0L559.4 511.2Z"/>
<path d="M570.7 508.8L575.9 512.0M579.9 514.4L575.3 513.0L576.6 511.0Z"/>
<path d="M587.7 509.1L593.3 511.9M597.3 514.0L592.7 513.0L593.8 510.9Z"/>
<path d="M604.8 509.6L610.6 511.9M614.8 513.6L610.1 513.0L611.0 510.8Z"/>
<path d="M621.9 510.1L627.9 511.8M632.3 513.0L627.5 512.9L628.2 510.6Z"/>
<path d="M639.0 511.1L645.2 511.7M649.8 512.1L645.1 512.8L645.3 510.5Z"/>
<path d="M656.3 511.4L662.5 511.6M667.1 511.8L662.4 512.8L662.5 510.4Z"/>
<path d="M673.5 511.3L679.7 511.6M684.3 511.8L679.7 512.8L679.8 510.4Z"/>
<path d="M690.8 511.4L697.0 511.6M701.6 511.8L697.0 512.8L697.1 510.4Z"/>
<path d="M708.1 511.4L714.3 511.6M718.9 511.7L714.3 512.8L714.3 510.4Z"/>
<path d="M725.4 511.6L731.6 511.6M736.2 511.5L731.6 512.8L731.6 510.4Z"/>
<path d="M742.7 511.7L748.9 511.6M753.5 511.5L748.9 512.8L748.8 510.4Z"/>
<path d="M759.9 511.7L766.1 511.6M770.7 511.4L766.2 512.8L766.1 510.4Z"/>
<path d="M777.2 511.9L783.4 511.5M788.0 511.2L783.5 512.7L783.3 510.3Z"/>
<path d="M794.5 512.0L800.7 511.5M805.3 511.2L800.8 512.7L800.6 510.3Z"/>
<path d="M284.9 483.7L281.0 488.5M278.1 492.1L280.1 487.7L281.9 489.2Z"/>
<path d="M301.9 483.5L298.3 488.5M295.7 492.3L297.3 487.8L299.3 489.2Z"/>
<path d="M318.1 482.9L315.8 488.6M314.0 492.9L314.6 488.2L316.9 489.1Z"/>
<path d="M334.6 482.6L333.2 488.6M332.1 493.1L332.0 488.4L334.3 488.9Z"/>
<path d="M351.6 482.6L350.5 488.7M349.7 493.2L349.3 488.5L351.7 488.9Z"/>
<path d="M368.5 482.5L367.8 488.7M367.3 493.2L366.6 488.5L369.0 488.8Z"/>
<path d="M385.2 482.5L385.2 488.7M385.1 493.3L384.0 488.7L386.4 488.7Z"/>
<path d="M402.0 482.5L402.5 488.7M402.9 493.3L401.3 488.8L403.7 488.6Z"/>
<path d="M418.9 482.5L419.9 488.7M420.6 493.2L418.7 488.9L421.1 488.5Z"/>
<path d="M435.8 482.6L437.2 488.6M438.3 493.1L436.0 488.9L438.4 488.4Z"/>
<path d="M452.6 482.7L454.5 488.6M456.0 493.0L453.4 489.0L455.7 488.3Z"/>
<path d="M469.5 482.9L471.9 488.6M473.6 492.9L470.8 489.1L473.0 488.2Z"/>
<path d="M486.5 483.0L489.2 488.6M491.3 492.7L488.1 489.1L490.3 488.1Z"/>
<path d="M503.4 483.2L506.6 488.6M508.9 492.5L505.5 489.2L507.6 487.9Z"/>
<path d="M520.2 483.5L523.9 488.5M526.7 492.2L522.9 489.2L524.9 487.8Z"/>
<path d="M537.0 484.0L541.3 488.4M544.4 491.8L540.4 489.3L542.1 487.6Z"/>
<path d="M553.8 484.5L558.6 488.4M562.2 491.3L557.8 489.3L559.4 487.4Z"/>
<path d="M570.6 485.1L575.9 488.3M579.9 490.7L575.3 489.3L576.6 487.3Z"/>
<path d="M587.5 485.8L593.3 488.2M597.5 489.9L592.8 489.3L593.7 487.1Z"/>
<path d="M604.5 486.9L610.6 488.0M615.1 488.8L610.4 489.2L610.8 486.8Z"/>
<path d="M621.7 487.8L627.9 487.9M632.5 487.9L627.9 489.1L627.9 486.7Z"/>
<path d="M639.0 487.9L645.2 487.9M649.8 487.9L645.2 489.1L645.2 486.7Z"/>
<path d="M656.3 487.7L662.5 487.9M667.1 488.0L662.4 489.1L662.5 486.7Z"/>
<path d="M673.5 487.8L679.7 487.9M684.3 487.9L679.7 489.1L679.8 486.7Z"/>
<path d="M690.8 488.0L697.0 487.9M701.6 487.7L697.0 489.1L697.0 486.7Z"/>
<path d="M708.1 488.1L714.3 487.8M718.9 487.7L714.3 489.0L714.3 486.6Z"/>
<path d="M725.4 488.1L731.6 487.8M736.2 487.7L731.6 489.0L731.5 486.6Z"/>
<path d="M742.7 488.6L748.9 487.8M753.4 487.1L749.0 488.9L748.7 486.6Z"/>
<path d="M760.0 488.8L766.1 487.7M770.7 486.9L766.3 488.9L765.9 486.5Z"/>
<path d="M777.2 488.4L783.4 487.8M788.0 487.3L783.5 489.0L783.3 486.6Z"/>
<path d="M794.5 488.3L800.7 487.8M805.3 487.4L800.8 489.0L800.6 486.6Z"/>
<path d="M317.0 458.7L315.9 464.8M315.1 469.4L314.7 464.6L317.1 465.1Z"/>
<path d="M334.3 458.7L333.2 464.9M332.4 469.4L332.0 464.6L334.4 465.1Z"/>
<path d="M351.5 458.7L350.5 464.9M349.8 469.4L349.3 464.7L351.7 465.0Z"/>
<path d="M368.4 458.7L367.8 464.9M367.4 469.4L366.6 464.8L369.0 465.0Z"/>
<path d="M385.1 458.7L385.2 464.9M385.3 469.5L384.0 464.9L386.4 464.8Z"/>
<path d="M401.9 458.7L402.5 464.9M403.0 469.4L401.4 465.0L403.7 464.7Z"/>
<path d="M418.9 458.7L419.9 464.9M420.6 469.4L418.7 465.0L421.1 464.7Z"/>
<path d="M435.9 458.8L437.2 464.8M438.2 469.3L436.0 465.1L438.4 464.6Z"/>
<path d="M452.8 458.9L454.5 464.8M455.8 469.2L453.4 465.2L455.7 464.5Z"/>
<path d="M469.7 459.0L471.9 464.8M473.5 469.1L470.7 465.2L473.0 464.4Z"/>
<path d="M486.5 459.2L489.2 464.8M491.2 468.9L488.1 465.3L490.3 464.3Z"/>
<path d="M503.4 459.4L506.5 464.8M508.9 468.7L505.5 465.4L507.6 464.1Z"/>
<path d="M520.3 459.7L523.9 464.7M526.6 468.5L522.9 465.4L524.9 464.0Z"/>
<path d="M537.1 460.1L541.2 464.7M544.3 468.1L540.3 465.5L542.1 463.8Z"/>
<path d="M553.8 460.6L558.6 464.6M562.1 467.5L557.8 465.5L559.4 463.7Z"/>
<path d="M570.6 461.3L575.9 464.5M579.9 466.8L575.3 465.5L576.6 463.4Z"/>
<path d="M587.5 462.2L593.3 464.3M597.6 465.9L592.9 465.5L593.7 463.2Z"/>
<path d="M604.5 463.5L610.6 464.2M615.2 464.7L610.5 465.3L610.8 463.0Z"/>
<path d="M621.7 464.0L627.9 464.1M632.5 464.1L627.9 465.3L627.9 462.9Z"/>
<path d="M639.0 464.1L645.2 464.1M649.8 464.1L645.2 465.3L645.2 462.9Z"/>
<path d="M656.3 464.2L662.5 464.0M667.1 463.9L662.5 465.2L662.4 462.8Z"/>
<path d="M673.6 464.6L679.7 464.0M684.3 463.5L679.9 465.2L679.6 462.8Z"/>
<path d="M690.8 464.5L697.0 464.0M701.6 463.6L697.1 465.2L696.9 462.8Z"/>
<path d="M708.1 464.6L714.3 464.0M718.9 463.5L714.4 465.2L714.2 462.8Z"/>
<path d="M725.5 465.1L731.6 463.9M736.1 463.1L731.8 465.1L731.3 462.7Z"/>
<path d="M742.8 465.2L748.8 463.9M753.3 462.9L749.1 465.1L748.6 462.7Z"/>
<path d="M760.1 465.2L766.1 463.9M770.6 462.9L766.4 465.1L765.9 462.7Z"/>
<path d="M777.4 465.4L783.4 463.9M787.8 462.7L783.7 465.0L783.1 462.7Z"/>
<path d="M794.7 465.5L800.7 463.9M805.1 462.7L801.0 465.0L800.4 462.7Z"/>
<path d="M334.3 434.8L333.2 440.9M332.4 445.5L332.0 440.7L334.4 441.1Z"/>
<path d="M351.3 434.8L350.5 440.9M350.0 445.5L349.3 440.8L351.7 441.1Z"/>
<path d="M368.2 434.8L367.9 440.9M367.6 445.5L366.7 440.9L369.1 441.0Z"/>
<path d="M385.2 434.7L385.2 440.9M385.2 445.5L384.0 441.0L386.4 440.9Z"/>
<path d="M402.1 434.8L402.5 440.9M402.8 445.5L401.3 441.0L403.7 440.9Z"/>
<path d="M419.3 434.8L419.8 440.9M420.2 445.5L418.6 441.1L421.0 440.8Z"/>
<path d="M436.2 434.8L437.1 440.9M437.8 445.5L436.0 441.1L438.3 440.8Z"/>
<path d="M453.0 434.9L454.5 440.9M455.6 445.4L453.3 441.2L455.7 440.6Z"/>
<path d="M470.0 435.0L471.8 440.9M473.2 445.3L470.7 441.3L473.0 440.6Z"/>
<path d="M486.9 435.1L489.2 440.9M490.8 445.2L488.0 441.3L490.3 440.5Z"/>
<path d="M503.9 435.3L506.5 440.9M508.4 445.0L505.4 441.4L507.6 440.4Z"/>
<path d="M520.8 435.4L523.8 440.8M526.1 444.9L522.8 441.4L524.9 440.3Z"/>
<path d="M537.4 435.8L541.2 440.8M544.0 444.5L540.2 441.5L542.1 440.1Z"/>
<path d="M554.1 436.4L558.6 440.7M561.9 443.9L557.7 441.6L559.4 439.8Z"/>
<path d="M570.8 437.1L575.9 440.6M579.7 443.2L575.2 441.6L576.6 439.6Z"/>
<path d="M587.7 437.9L593.3 440.5M597.4 442.4L592.8 441.6L593.8 439.4Z"/>
<path d="M604.6 438.8L610.6 440.4M615.0 441.5L610.3 441.5L610.9 439.2Z"/>
<path d="M621.7 440.3L627.9 440.1M632.5 440.0L627.9 441.3L627.9 438.9Z"/>
<path d="M639.0 440.4L645.2 440.1M649.8 439.9L645.2 441.3L645.1 438.9Z"/>
<path d="M656.3 440.8L662.5 440.1M667.0 439.5L662.6 441.2L662.3 438.9Z"/>
<path d="M673.6 441.1L679.7 440.0M684.3 439.2L679.9 441.2L679.5 438.8Z"/>
<path d="M690.9 441.2L697.0 440.0M701.5 439.1L697.2 441.2L696.8 438.8Z"/>
<path d="M708.4 441.8L714.3 439.9M718.6 438.5L714.6 441.0L713.9 438.8Z"/>
<path d="M725.6 441.8L731.5 439.9M735.9 438.5L731.9 441.0L731.2 438.8Z"/>
<path d="M743.0 442.0L748.8 439.9M753.1 438.3L749.2 441.0L748.4 438.7Z"/>
<path d="M760.3 442.0L766.1 439.9M770.4 438.3L766.5 441.0L765.7 438.7Z"/>
<path d="M777.6 442.1L783.4 439.9M787.6 438.2L783.8 441.0L782.9 438.7Z"/>
<path d="M794.9 442.2L800.6 439.9M804.9 438.1L801.1 441.0L800.2 438.7Z"/>
<path d="M333.8 410.7L333.3 416.9M332.9 421.5L332.1 416.8L334.5 417.0Z"/>
<path d="M350.9 410.7L350.6 416.9M350.3 421.5L349.4 416.9L351.8 417.0Z"/>
<path d="M368.2 410.7L367.9 416.9M367.6 421.5L366.7 416.9L369.1 417.0Z"/>
<path d="M385.3 410.7L385.2 416.9M385.1 421.5L384.0 416.9L386.4 417.0Z"/>
<path d="M402.2 410.7L402.5 416.9M402.7 421.5L401.3 417.0L403.7 416.9Z"/>
<path d="M419.6 410.7L419.8 416.9M419.9 421.5L418.6 417.0L421.0 416.9Z"/>
<path d="M436.4 410.8L437.1 416.9M437.7 421.5L435.9 417.1L438.3 416.8Z"/>
<path d="M453.0 410.9L454.5 416.9M455.6 421.4L453.3 417.2L455.7 416.6Z"/>
<path d="M469.9 411.0L471.8 416.9M473.2 421.3L470.7 417.3L473.0 416.5Z"/>
<path d="M487.0 411.1L489.1 416.9M490.8 421.2L488.0 417.3L490.3 416.5Z"/>
<path d="M504.1 411.1L506.4 416.9M508.2 421.1L505.3 417.3L507.6 416.4Z"/>
<path d="M521.1 411.2L523.8 416.9M525.7 421.0L522.7 417.4L524.8 416.3Z"/>
<path d="M537.6 411.7L541.2 416.8M543.8 420.6L540.2 417.5L542.1 416.1Z"/>
<path d="M554.2 412.3L558.5 416.7M561.8 419.9L557.7 417.5L559.4 415.8Z"/>
<path d="M570.8 413.0L575.9 416.6M579.7 419.2L575.2 417.6L576.6 415.6Z"/>
<path d="M587.6 413.8L593.3 416.5M597.4 418.4L592.8 417.6L593.8 415.4Z"/>
<path d="M604.7 414.3L610.6 416.4M614.9 418.0L610.2 417.5L611.0 415.3Z"/>
<path d="M621.7 415.8L627.9 416.2M632.5 416.5L627.8 417.4L628.0 415.0Z"/>
<path d="M639.0 416.1L645.2 416.1M649.8 416.1L645.2 417.3L645.2 414.9Z"/>
<path d="M656.3 416.9L662.5 416.0M667.0 415.4L662.6 417.2L662.3 414.8Z"/>
<path d="M673.7 417.3L679.7 416.0M684.2 415.0L680.0 417.1L679.5 414.8Z"/>
<path d="M691.0 417.4L697.0 415.9M701.5 414.8L697.3 417.1L696.7 414.8Z"/>
<path d="M708.4 418.0L714.3 415.9M718.6 414.3L714.7 417.0L713.8 414.7Z"/>
<path d="M725.7 418.0L731.5 415.9M735.8 414.3L731.9 417.0L731.1 414.7Z"/>
<path d="M743.2 418.4L748.8 415.8M753.0 413.9L749.3 416.9L748.3 414.7Z"/>
<path d="M760.4 418.4L766.1 415.8M770.2 413.8L766.6 416.9L765.6 414.7Z"/>
<path d="M777.7 418.4L783.3 415.8M787.5 413.8L783.9 416.9L782.8 414.7Z"/>
<path d="M795.0 418.4L800.6 415.8M804.8 413.8L801.1 416.9L800.1 414.7Z"/>
<path d="M333.7 386.6L333.3 392.8M332.9 397.4L332.1 392.7L334.5 392.9Z"/>
<path d="M350.9 386.6L350.6 392.8M350.3 397.4L349.4 392.7L351.8 392.9Z"/>
<path d="M368.2 386.6L367.9 392.8M367.6 397.4L366.7 392.7L369.1 392.9Z"/>
<path d="M385.1 386.6L385.2 392.8M385.2 397.4L384.0 392.8L386.4 392.8Z"/>
<path d="M402.1 386.6L402.5 392.8M402.9 397.4L401.3 392.9L403.7 392.7Z"/>
<path d="M419.2 386.6L419.8 392.8M420.2 397.4L418.6 392.9L421.0 392.7Z"/>
<path d="M436.2 386.7L437.1 392.8M437.9 397.3L436.0 393.0L438.3 392.6Z"/>
<path d="M453.0 386.8L454.5 392.8M455.6 397.2L453.3 393.1L455.7 392.5Z"/>
<path d="M470.0 386.8L471.8 392.8M473.2 397.2L470.7 393.1L473.0 392.4Z"/>
<path d="M486.9 387.0L489.1 392.8M490.8 397.0L488.0 393.2L490.3 392.3Z"/>
<path d="M503.8 387.1L506.5 392.7M508.4 396.9L505.4 393.2L507.6 392.2Z"/>
<path d="M520.6 387.4L523.8 392.7M526.2 396.6L522.8 393.3L524.9 392.1Z"/>
<path d="M537.2 387.9L541.2 392.6M544.2 396.1L540.3 393.4L542.1 391.8Z"/>
<path d="M553.8 388.5L558.6 392.5M562.1 395.5L557.8 393.4L559.4 391.6Z"/>
<path d="M570.6 389.2L575.9 392.4M579.9 394.8L575.3 393.4L576.6 391.4Z"/>
<path d="M587.5 390.0L593.3 392.3M597.6 394.0L592.8 393.4L593.7 391.2Z"/>
<path d="M604.6 390.7L610.6 392.2M615.1 393.3L610.3 393.4L610.9 391.0Z"/>
<path d="M621.7 392.2L627.9 392.0M632.5 391.8L628.0 393.2L627.8 390.8Z"/>
<path d="M639.0 392.5L645.2 391.9M649.8 391.5L645.3 393.1L645.1 390.7Z"/>
<path d="M656.4 393.2L662.4 391.8M666.9 390.8L662.7 393.0L662.2 390.7Z"/>
<path d="M673.9 393.9L679.7 391.7M684.0 390.2L680.1 392.9L679.3 390.6Z"/>
<path d="M691.2 393.9L697.0 391.7M701.3 390.1L697.4 392.8L696.6 390.6Z"/>
<path d="M708.7 394.5L714.2 391.6M718.3 389.5L714.8 392.7L713.6 390.6Z"/>
<path d="M726.0 394.5L731.5 391.6M735.6 389.5L732.0 392.7L730.9 390.6Z"/>
<path d="M743.4 394.8L748.7 391.6M752.7 389.2L749.4 392.6L748.1 390.6Z"/>
<path d="M760.8 394.9L766.0 391.6M769.9 389.1L766.7 392.6L765.4 390.6Z"/>
<path d="M778.2 395.0L783.3 391.6M787.1 389.0L784.0 392.5L782.6 390.6Z"/>
<path d="M795.5 395.1L800.6 391.5M804.3 388.9L801.2 392.5L799.9 390.6Z"/>
<path d="M351.5 362.4L350.5 368.6M349.7 373.1L349.3 368.4L351.7 368.8Z"/>
<path d="M368.7 362.4L367.8 368.6M367.1 373.1L366.6 368.4L369.0 368.7Z"/>
<path d="M385.3 362.4L385.2 368.6M385.0 373.2L384.0 368.5L386.4 368.6Z"/>
<path d="M401.8 362.4L402.6 368.6M403.1 373.1L401.4 368.7L403.8 368.4Z"/>
<path d="M418.6 362.5L419.9 368.6M420.8 373.1L418.7 368.8L421.1 368.3Z"/>
<path d="M435.7 362.5L437.2 368.5M438.3 373.0L436.1 368.8L438.4 368.2Z"/>
<path d="M452.9 362.6L454.5 368.5M455.7 373.0L453.3 368.8L455.7 368.2Z"/>
<path d="M470.2 362.6L471.8 368.5M473.0 373.0L470.6 368.9L472.9 368.2Z"/>
<path d="M487.1 362.6L489.1 368.5M490.6 372.9L488.0 368.9L490.3 368.1Z"/>
<path d="M504.3 362.7L506.4 368.5M508.0 372.8L505.3 368.9L507.5 368.1Z"/>
<path d="M520.7 363.1L523.8 368.5M526.1 372.4L522.8 369.1L524.9 367.9Z"/>
<path d="M536.9 363.9L541.3 368.3M544.5 371.6L540.4 369.2L542.1 367.5Z"/>
<path d="M553.6 364.7L558.6 368.2M562.4 370.9L557.9 369.2L559.3 367.2Z"/>
<path d="M570.6 365.1L576.0 368.2M579.9 370.5L575.4 369.2L576.6 367.1Z"/>
<path d="M587.3 366.4L593.3 368.0M597.8 369.2L593.0 369.1L593.6 366.8Z"/>
<path d="M604.5 366.8L610.6 367.9M615.1 368.7L610.4 369.1L610.8 366.7Z"/>
<path d="M621.7 367.3L627.9 367.8M632.5 368.2L627.8 369.0L628.0 366.6Z"/>
<path d="M691.6 370.6L696.9 367.4M700.8 365.0L697.5 368.4L696.3 366.3Z"/>
<path d="M708.8 370.5L714.2 367.4M718.2 365.1L714.8 368.4L713.6 366.3Z"/>
<path d="M726.0 370.3L731.5 367.4M735.5 365.2L732.1 368.5L730.9 366.3Z"/>
<path d="M743.4 370.6L748.7 367.4M752.7 365.0L749.4 368.4L748.1 366.3Z"/>
<path d="M761.1 371.0L766.0 367.3M769.6 364.5L766.7 368.2L765.2 366.3Z"/>
<path d="M778.6 371.4L783.2 367.2M786.7 364.2L784.0 368.1L782.4 366.3Z"/>
<path d="M795.6 371.1L800.5 367.3M804.2 364.5L801.3 368.2L799.8 366.3Z"/>
<path d="M351.6 338.1L350.5 344.2M349.7 348.7L349.3 344.0L351.7 344.4Z"/>
<path d="M368.8 338.1L367.8 344.2M367.0 348.7L366.6 344.0L369.0 344.4Z"/>
<path d="M385.6 338.0L385.1 344.2M384.8 348.8L383.9 344.1L386.3 344.3Z"/>
<path d="M401.7 338.1L402.6 344.2M403.3 348.8L401.4 344.4L403.8 344.0Z"/>
<path d="M418.4 338.2L419.9 344.2M421.1 348.7L418.8 344.5L421.1 343.9Z"/>
<path d="M435.7 338.2L437.2 344.2M438.3 348.7L436.0 344.5L438.4 343.9Z"/>
<path d="M453.2 338.1L454.5 344.2M455.4 348.7L453.3 344.4L455.6 344.0Z"/>
<path d="M470.6 338.1L471.7 344.2M472.5 348.7L470.5 344.4L472.9 344.0Z"/>
<path d="M487.3 338.2L489.1 344.2M490.4 348.6L487.9 344.5L490.2 343.8Z"/>
<path d="M504.3 338.3L506.4 344.2M508.0 348.5L505.3 344.6L507.5 343.8Z"/>
<path d="M520.7 338.7L523.8 344.1M526.1 348.1L522.8 344.7L524.9 343.5Z"/>
<path d="M537.2 339.3L541.2 344.0M544.2 347.6L540.3 344.8L542.1 343.3Z"/>
<path d="M553.8 339.9L558.6 343.9M562.1 346.9L557.8 344.9L559.4 343.0Z"/>
<path d="M570.6 340.7L576.0 343.8M579.9 346.1L575.4 344.9L576.6 342.8Z"/>
<path d="M587.5 341.6L593.3 343.7M597.6 345.3L592.9 344.8L593.7 342.6Z"/>
<path d="M604.4 342.9L610.6 343.5M615.2 343.9L610.5 344.7L610.7 342.3Z"/>
<path d="M621.7 343.9L627.9 343.4M632.5 343.0L628.0 344.5L627.8 342.2Z"/>
<path d="M709.0 346.5L714.2 343.0M718.0 340.4L714.8 344.0L713.5 342.0Z"/>
<path d="M726.1 346.2L731.5 343.0M735.4 340.7L732.1 344.0L730.9 342.0Z"/>
<path d="M743.7 346.6L748.7 343.0M752.5 340.3L749.4 343.9L748.0 342.0Z"/>
<path d="M761.5 347.2L765.9 342.9M769.2 339.7L766.7 343.7L765.1 342.0Z"/>
<path d="M778.8 347.2L783.2 342.9M786.4 339.6L784.0 343.7L782.3 342.0Z"/>
<path d="M796.0 347.1L800.5 342.9M803.8 339.7L801.3 343.7L799.7 342.0Z"/>
<path d="M401.4 313.7L402.6 319.7M403.5 324.2L401.4 320.0L403.8 319.5Z"/>
<path d="M418.4 313.7L419.9 319.7M421.1 324.2L418.8 320.0L421.1 319.4Z"/>
<path d="M435.8 313.7L437.2 319.7M438.2 324.2L436.0 320.0L438.4 319.5Z"/>
<path d="M453.3 313.7L454.4 319.7M455.3 324.3L453.3 320.0L455.6 319.5Z"/>
<path d="M470.6 313.6L471.7 319.7M472.5 324.3L470.5 320.0L472.9 319.5Z"/>
<path d="M487.6 313.7L489.0 319.7M490.1 324.2L487.9 320.0L490.2 319.5Z"/>
<path d="M504.7 313.7L506.3 319.7M507.5 324.2L505.2 320.0L507.5 319.4Z"/>
<path d="M521.1 314.1L523.8 319.7M525.7 323.9L522.7 320.2L524.8 319.2Z"/>
<path d="M537.6 314.5L541.2 319.6M543.8 323.4L540.2 320.3L542.1 318.9Z"/>
<path d="M554.2 315.1L558.5 319.5M561.8 322.8L557.7 320.4L559.4 318.7Z"/>
<path d="M570.6 316.3L576.0 319.4M579.9 321.7L575.4 320.4L576.6 318.3Z"/>
<path d="M587.5 317.1L593.3 319.2M597.6 320.8L592.9 320.4L593.7 318.1Z"/>
<path d="M604.4 318.5L610.6 319.0M615.2 319.4L610.5 320.2L610.7 317.8Z"/>
<path d="M621.9 320.4L627.9 318.8M632.3 317.6L628.2 319.9L627.6 317.6Z"/>
<path d="M760.8 321.8L766.0 318.5M769.9 316.1L766.7 319.6L765.4 317.5Z"/>
<path d="M778.2 322.1L783.3 318.5M787.0 315.9L784.0 319.5L782.6 317.5Z"/>
<path d="M795.4 321.9L800.6 318.5M804.4 316.0L801.2 319.5L799.9 317.5Z"/>
<path d="M401.1 289.2L402.7 295.2M403.8 299.6L401.5 295.5L403.8 294.9Z"/>
<path d="M418.3 289.2L419.9 295.2M421.2 299.6L418.8 295.5L421.1 294.8Z"/>
<path d="M435.8 289.1L437.2 295.2M438.3 299.6L436.0 295.4L438.4 294.9Z"/>
<path d="M453.4 289.1L454.4 295.2M455.2 299.7L453.3 295.4L455.6 295.0Z"/>
<path d="M471.1 289.0L471.7 295.2M472.1 299.8L470.5 295.3L472.9 295.1Z"/>
<path d="M488.3 289.0L488.9 295.2M489.4 299.8L487.7 295.3L490.1 295.1Z"/>
<path d="M503.9 289.5L506.5 295.1M508.3 299.3L505.4 295.6L507.6 294.6Z"/>
<path d="M521.1 289.5L523.8 295.1M525.7 299.3L522.7 295.6L524.8 294.6Z"/>
<path d="M537.6 290.0L541.2 295.0M543.8 298.8L540.2 295.7L542.1 294.4Z"/>
<path d="M554.2 290.6L558.5 295.0M561.8 298.2L557.7 295.8L559.4 294.1Z"/>
<path d="M570.4 292.1L576.0 294.7M580.2 296.7L575.5 295.8L576.5 293.6Z"/>
<path d="M588.0 297.4L593.2 293.9M597.0 291.4L593.9 294.9L592.5 292.9Z"/>
<path d="M760.1 295.8L766.1 294.2M770.6 293.0L766.4 295.3L765.8 293.0Z"/>
<path d="M401.2 264.4L402.6 270.5M403.7 275.0L401.5 270.7L403.8 270.2Z"/>
<path d="M418.6 264.4L419.9 270.5M420.9 275.0L418.7 270.7L421.1 270.2Z"/>
<path d="M435.9 264.4L437.2 270.5M438.1 275.0L436.0 270.7L438.4 270.2Z"/>
<path d="M453.1 264.4L454.5 270.5M455.5 275.0L453.3 270.7L455.6 270.2Z"/>
<path d="M470.2 264.5L471.8 270.5M472.9 274.9L470.6 270.8L472.9 270.2Z"/>
<path d="M486.9 264.7L489.2 270.4M490.8 274.7L488.0 270.9L490.3 270.0Z"/>
<path d="M503.4 265.0L506.5 270.4M508.8 274.4L505.5 271.0L507.6 269.8Z"/>
<path d="M520.7 265.0L523.8 270.4M526.1 274.4L522.8 271.0L524.9 269.8Z"/>
<path d="M537.2 265.6L541.2 270.3M544.2 273.8L540.3 271.1L542.1 269.5Z"/>
<path d="M553.8 266.2L558.6 270.2M562.1 273.2L557.8 271.1L559.4 269.3Z"/>
<path d="M570.8 266.6L575.9 270.2M579.7 272.8L575.2 271.1L576.6 269.2Z"/>
<path d="M742.8 271.1L748.8 269.5M753.3 268.3L749.1 270.6L748.5 268.3Z"/>
<path d="M760.0 270.6L766.1 269.6M770.7 268.7L766.3 270.7L765.9 268.4Z"/>
<path d="M777.3 270.4L783.4 269.6M788.0 269.0L783.6 270.8L783.3 268.4Z"/>
<path d="M794.5 270.2L800.7 269.6M805.3 269.2L800.8 270.8L800.6 268.4Z"/>
<path d="M419.2 239.5L419.8 245.7M420.3 250.3L418.6 245.8L421.0 245.6Z"/>
<path d="M436.5 239.5L437.1 245.7M437.5 250.3L435.9 245.8L438.3 245.6Z"/>
<path d="M453.7 239.5L454.4 245.7M454.9 250.3L453.2 245.8L455.6 245.6Z"/>
<path d="M470.6 239.6L471.7 245.7M472.6 250.2L470.5 245.9L472.9 245.5Z"/>
<path d="M487.4 239.7L489.1 245.7M490.3 250.1L487.9 246.0L490.2 245.3Z"/>
<path d="M503.7 240.1L506.5 245.6M508.6 249.7L505.4 246.1L507.6 245.0Z"/>
<path d="M520.4 240.4L523.9 245.5M526.5 249.4L522.9 246.2L524.9 244.9Z"/>
<path d="M536.8 241.2L541.3 245.4M544.6 248.6L540.5 246.3L542.1 244.6Z"/>
<path d="M553.4 242.0L558.7 245.3M562.6 247.8L558.0 246.3L559.3 244.3Z"/>
<path d="M570.6 242.2L576.0 245.3M579.9 247.6L575.4 246.3L576.6 244.2Z"/>
<path d="M587.9 242.2L593.2 245.3M597.2 247.6L592.6 246.3L593.8 244.3Z"/>
<path d="M605.6 241.5L610.4 245.4M614.0 248.3L609.7 246.3L611.2 244.5Z"/>
<path d="M708.1 245.5L714.3 244.8M718.9 244.2L714.4 246.0L714.2 243.6Z"/>
<path d="M725.5 245.8L731.6 244.7M736.1 244.0L731.8 245.9L731.4 243.6Z"/>
<path d="M743.2 247.2L748.8 244.5M753.0 242.6L749.3 245.6L748.3 243.5Z"/>
<path d="M761.5 248.7L765.9 244.3M769.2 241.1L766.8 245.2L765.1 243.5Z"/>
<path d="M779.3 249.2L783.1 244.3M785.9 240.6L784.1 245.0L782.2 243.5Z"/>
<path d="M796.8 249.3L800.4 244.2M803.0 240.5L801.3 244.9L799.4 243.5Z"/>
<path d="M453.8 214.6L454.4 220.8M454.8 225.3L453.2 220.9L455.6 220.6Z"/>
<path d="M470.8 214.6L471.7 220.8M472.3 225.3L470.5 220.9L472.9 220.6Z"/>
<path d="M488.1 214.6L489.0 220.8M489.6 225.3L487.8 220.9L490.2 220.6Z"/>
<path d="M504.3 214.9L506.4 220.7M507.9 225.1L505.3 221.1L507.5 220.3Z"/>
<path d="M521.6 214.9L523.7 220.7M525.3 225.0L522.6 221.1L524.8 220.3Z"/>
<path d="M535.8 217.6L541.4 220.3M545.6 222.3L540.9 221.4L541.9 219.2Z"/>
<path d="M552.7 219.0L558.8 220.1M563.3 220.9L558.6 221.3L559.0 218.9Z"/>
<path d="M570.1 218.5L576.0 220.2M580.5 221.4L575.7 221.3L576.4 219.0Z"/>
<path d="M587.8 217.5L593.2 220.3M597.3 222.5L592.7 221.4L593.8 219.3Z"/>
<path d="M605.3 217.0L610.5 220.4M614.4 222.9L609.8 221.4L611.1 219.4Z"/>
<path d="M622.7 216.9L627.8 220.4M631.5 223.0L627.1 221.4L628.4 219.4Z"/>
<path d="M639.7 217.3L645.1 220.4M649.1 222.7L644.5 221.4L645.7 219.3Z"/>
<path d="M710.0 215.8L714.0 220.6M717.0 224.1L713.1 221.3L714.9 219.8Z"/>
<path d="M728.1 215.3L731.2 220.7M733.5 224.6L730.1 221.3L732.2 220.1Z"/>
<path d="M745.8 224.9L748.4 219.2M750.3 215.1L749.5 219.7L747.3 218.7Z"/>
<path d="M764.4 225.3L765.5 219.2M766.3 214.6L766.7 219.4L764.3 219.0Z"/>
<path d="M781.9 225.3L782.7 219.2M783.3 214.6L783.9 219.3L781.5 219.0Z"/>
<path d="M799.4 225.3L800.0 219.2M800.4 214.6L801.2 219.3L798.8 219.0Z"/>
<path d="M471.6 189.5L471.6 195.7M471.6 200.3L470.4 195.7L472.8 195.7Z"/>
<path d="M488.4 189.5L488.9 195.7M489.3 200.3L487.7 195.8L490.1 195.6Z"/>
<path d="M504.5 189.8L506.4 195.7M507.8 200.1L505.2 196.0L507.5 195.3Z"/>
<path d="M521.3 189.9L523.7 195.7M525.5 199.9L522.6 196.1L524.8 195.2Z"/>
<path d="M746.2 200.0L748.3 194.2M749.9 189.8L749.5 194.6L747.2 193.8Z"/>
<path d="M764.1 200.2L765.5 194.1M766.6 189.7L766.7 194.4L764.4 193.9Z"/>
<path d="M781.5 200.2L782.8 194.1M783.7 189.6L784.0 194.4L781.6 193.9Z"/>
<path d="M799.0 200.2L800.0 194.1M800.8 189.6L801.2 194.3L798.9 193.9Z"/>
<path d="M488.6 164.3L488.9 170.5M489.1 175.1L487.7 170.6L490.1 170.5Z"/>
<path d="M504.9 164.5L506.3 170.5M507.4 175.0L505.2 170.8L507.5 170.3Z"/>
<path d="M520.9 165.0L523.8 170.5M525.9 174.5L522.7 171.0L524.9 169.9Z"/>
<path d="M537.1 165.8L541.2 170.3M544.3 173.7L540.4 171.1L542.1 169.5Z"/>
<path d="M798.6 175.0L800.1 169.0M801.2 164.5L801.3 169.2L798.9 168.7Z"/>
</g>
<polygon points="351.0,656.0 349.7,654.0 337.0,650.0 330.0,649.0 316.3,641.7 298.6,632.9 286.8,618.1 278.0,600.4 280.2,586.8 269.0,572.1 263.3,565.4 262.2,557.5 255.4,550.1 247.5,548.5 241.9,551.8 235.1,554.1 245.3,546.2 247.5,539.4 256.5,538.3 255.4,533.2 261.1,527.0 272.3,524.8 272.5,512.4 271.7,503.0 272.5,492.0 274.1,484.1 277.2,481.7 282.0,476.2 285.1,468.3 293.0,463.6 304.0,465.2 310.3,466.0 315.0,460.5 318.2,452.6 316.6,447.9 316.6,440.0 317.8,424.0 320.8,397.4 323.7,379.7 334.0,367.9 351.8,341.3 366.5,336.9 378.4,334.8 383.1,325.4 387.8,313.6 387.8,301.7 390.3,297.6 393.7,292.3 392.5,278.1 385.9,269.9 399.7,258.1 415.4,244.3 427.2,232.5 439.1,218.7 446.9,206.9 452.8,197.1 457.8,191.2 456.8,181.3 458.7,175.4 466.6,173.5 474.5,171.5 484.3,168.5 490.0,169.5 496.9,168.5 501.8,166.6 505.7,162.6 508.7,155.7 512.6,149.8 511.2,152.8 506.7,157.7 502.8,151.8 503.8,165.6 510.7,167.6 515.6,166.6 521.5,167.6 526.4,168.5 532.3,166.6 533.3,159.7 531.3,150.8 538.2,143.9 535.3,150.8 536.3,159.7 538.2,167.6 546.1,169.5 550.0,173.5 555.0,171.5 558.9,174.4 559.9,179.4 566.8,180.8 560.9,183.3 553.0,181.3 545.1,179.4 539.2,180.4 529.4,178.4 519.5,176.4 510.7,176.4 515.6,181.3 520.5,182.3 533.3,184.3 540.2,186.3 543.1,191.2 534.3,193.1 529.4,195.1 524.4,197.1 523.5,199.1 531.3,199.1 534.3,201.0 545.1,205.0 551.0,208.9 555.2,212.8 564.8,217.6 574.4,219.6 581.3,216.9 595.1,216.2 604.8,216.9 607.5,212.0 614.4,214.1 617.2,207.9 618.5,214.8 628.2,217.6 636.5,220.3 642.0,212.7 644.7,218.9 644.7,231.3 653.0,232.7 647.5,236.9 648.9,242.4 642.0,239.6 633.7,242.4 625.4,245.1 619.9,247.9 615.1,249.3 603.4,257.5 592.4,267.2 581.3,272.7 571.7,280.9 571.7,286.5 581.3,289.2 588.2,286.5 599.3,287.8 604.8,290.6 611.7,300.0 623.0,305.2 630.9,303.6 636.0,309.0 642.3,317.3 643.5,333.5 639.5,336.7 638.7,354.0 634.0,355.6 629.3,358.7 635.6,363.5 645.0,368.2 651.3,374.5 667.1,374.5 679.7,369.8 692.3,358.7 698.6,346.1 709.4,340.5 719.5,337.5 731.7,334.5 739.8,338.5 743.8,330.4 751.9,323.3 758.0,319.3 759.0,314.2 768.1,308.1 776.3,309.1 784.4,314.2 788.4,319.3 800.6,315.2 803.0,315.0 803.0,612.6 795.0,611.4 784.1,616.3 770.8,620.5 755.1,613.8 747.8,606.6 741.7,598.1 740.5,590.8 746.6,586.6 743.0,586.0 736.9,583.6 733.3,580.0 730.8,578.7 728.4,584.8 721.2,590.8 710.3,592.7 700.6,590.8 689.7,593.3 680.0,591.2 671.2,589.6 658.6,590.4 642.8,588.8 636.5,587.2 627.1,586.5 617.6,590.4 608.2,594.3 601.9,598.3 590.9,600.6 579.8,603.0 573.5,604.6 562.5,610.9 551.5,617.2 540.5,625.0 532.6,629.8 520.0,637.6 519.0,639.2 503.2,647.1 499.3,653.0 495.4,660.9 485.5,665.8 467.8,667.8 452.0,664.8 436.3,661.9 426.5,657.9 418.6,661.9 398.9,662.8 379.2,658.9 359.5,656.0" fill="none" stroke="#000" stroke-width="1.1" stroke-linejoin="round"/>
<polygon points="798.1,165.2 784.6,170.3 771.1,180.4 764.3,182.1 757.6,190.5 754.2,193.9 752.5,193.9 750.8,183.8 745.7,177.0 747.0,185.0 748.0,193.0 744.1,195.6 733.9,200.7 723.8,205.7 720.4,212.5 712.0,210.8 709.4,214.2 712.0,221.0 700.1,227.7 699.3,236.1 703.5,246.3 706.9,251.4 720.4,254.7 727.2,258.1 732.2,266.6 737.3,276.7 732.2,283.4 740.7,285.1 754.2,291.9 764.3,295.3 774.5,291.9 788.0,285.1 798.1,283.4 803.0,285.0 803.0,164.0" fill="none" stroke="#000" stroke-width="1.1" stroke-linejoin="round"/>
<polygon points="216.0,709.1 226.8,706.1 236.6,697.2 244.5,679.5 252.4,676.6 264.2,674.6 276.0,676.6 281.9,670.7 293.7,668.7 307.5,671.7 317.3,676.6 331.1,677.6 342.9,674.6 345.0,670.0 347.0,664.0 349.0,658.0 350.5,655.0 352.5,656.0 350.5,664.0 348.5,670.0 347.0,676.0 354.7,681.5 362.6,687.4 364.6,697.2 378.3,695.3 403.9,696.3 403.9,699.2 390.2,700.2 370.5,701.2 362.6,703.1 350.8,705.1 335.0,711.0 331.1,717.0 216.0,717.0" fill="none" stroke="#000" stroke-width="1.1" stroke-linejoin="round"/>
<polygon points="407.8,238.0 409.4,237.9 409.6,240.0 408.0,240.2" fill="#fff" stroke="#000" stroke-width="0.6"/>
<polygon points="254.1,394.0 256.0,393.1 257.4,396.0 255.0,398.0" fill="#fff" stroke="#000" stroke-width="0.6"/>
<polygon points="240.0,403.0 243.0,401.2 245.5,402.0 243.0,404.5 240.5,404.5" fill="#fff" stroke="#000" stroke-width="0.6"/>
<polygon points="237.0,543.0 240.0,542.0 243.0,543.0 241.0,545.0 238.0,545.0" fill="#fff" stroke="#000" stroke-width="0.6"/>
<polygon points="579.8,165.6 599.5,156.7 615.3,151.8 633.0,145.9 642.8,140.0 644.8,132.1 656.6,116.3 668.4,100.6 666.5,92.7 664.5,84.8 664.5,76.0 757.0,76.0 755.0,84.8 745.0,92.0 731.4,94.7 719.6,88.8 707.8,82.9 696.0,84.8 688.1,91.7 672.4,93.7 671.4,98.6 680.2,100.6 670.4,102.6 660.6,120.3 648.7,140.0 644.8,147.8 629.1,153.7 615.3,154.7 599.5,159.6 580.8,166.5" fill="#fff" stroke="#000" stroke-width="0.6"/>
<polygon points="657.5,222.0 659.0,221.5 661.0,226.0 660.0,228.0" fill="#fff" stroke="#000" stroke-width="0.6"/>
<polygon points="667.0,226.0 670.0,224.5 674.0,230.0 675.0,236.0 671.0,238.6 668.0,233.0" fill="#fff" stroke="#000" stroke-width="0.6"/>
<polygon points="679.0,212.0 682.0,209.0 685.0,212.0 686.0,219.0 682.0,221.0 678.6,217.0" fill="#fff" stroke="#000" stroke-width="0.6"/>
<polygon points="419.0,699.0 424.0,697.0 431.0,698.0 429.0,701.0 421.0,701.0" fill="#fff" stroke="#000" stroke-width="0.6"/>
<polygon points="299.4,284.0 303.0,281.0 308.4,283.0 307.0,288.6 302.0,289.0" fill="#fff" stroke="#000" stroke-width="0.6"/>
<polygon points="317.3,256.6 319.0,257.0 323.0,275.0 326.3,291.0 322.0,295.0 318.0,292.0 318.0,275.0" fill="#fff" stroke="#000" stroke-width="0.6"/>
<polygon points="339.0,265.6 341.0,266.0 343.0,276.0 348.0,277.0 346.0,282.2 340.0,282.0 339.0,276.0" fill="#fff" stroke="#000" stroke-width="0.6"/>
<polygon points="356.0,255.4 358.9,257.0 357.0,268.0 353.0,275.2 351.9,273.0 354.0,265.0" fill="#fff" stroke="#000" stroke-width="0.6"/>
<polygon points="751.7,163.5 754.0,163.0 760.0,180.0 764.3,186.0 759.0,190.5 754.0,180.0" fill="#fff" stroke="#000" stroke-width="0.6"/>
<polygon points="784.6,280.0 788.0,278.4 789.7,283.0 786.0,288.5 783.0,286.0" fill="#fff" stroke="#000" stroke-width="0.6"/>
<polygon points="447.0,153.0 449.0,154.0 452.0,165.0 456.0,175.0 453.0,176.0 449.0,166.0" fill="#fff" stroke="#000" stroke-width="0.6"/>
<polygon points="453.0,152.0 455.0,153.0 459.0,164.0 462.0,172.0 459.0,173.0 455.0,163.0" fill="#fff" stroke="#000" stroke-width="0.6"/>
<polygon points="475.0,140.0 478.0,141.0 486.0,155.0 488.0,164.0 485.0,165.0 482.0,157.0 475.0,145.0" fill="#fff" stroke="#000" stroke-width="0.6"/>
<polygon points="733.3,218.6 737.3,214.7 745.2,210.8 746.8,211.9 743.6,215.5 737.3,218.6" fill="#f7f4d9" stroke="#000" stroke-width="0.6"/>
<polygon points="704.2,229.7 711.3,232.0 709.7,237.6 705.0,239.2 701.8,236.8" fill="#f7f4d9" stroke="#000" stroke-width="0.6"/>
<polygon points="701.8,246.2 719.2,239.1 720.7,242.3 705.7,250.2" fill="#f7f4d9" stroke="#000" stroke-width="0.6"/>
<polygon points="709.7,254.9 725.5,245.4 727.1,250.2 713.6,258.1" fill="#f7f4d9" stroke="#000" stroke-width="0.6"/>
<polygon points="353.5,303.5 356.0,303.0 357.0,306.0 354.0,306.5" fill="#f7f4d9" stroke="#000" stroke-width="0.6"/>
<polygon points="326.0,322.0 329.0,321.0 333.0,327.0 331.0,330.0 327.0,328.0" fill="#f7f4d9" stroke="#000" stroke-width="0.6"/>
<polygon points="355.0,330.0 358.0,328.0 361.0,330.0 359.0,334.0 356.0,333.0" fill="#f7f4d9" stroke="#000" stroke-width="0.6"/>
<polygon points="315.0,376.0 318.0,375.0 321.0,385.0 319.0,389.0 316.0,383.0" fill="#f7f4d9" stroke="#000" stroke-width="0.6"/>
<polygon points="252.0,395.0 256.0,395.0 257.0,398.0 253.0,398.0" fill="#f7f4d9" stroke="#000" stroke-width="0.6"/>
<polygon points="720.4,212.5 723.0,212.0 730.0,235.0 738.0,255.0 748.0,272.0 762.6,295.3 760.0,295.0 745.0,274.0 734.0,256.0 726.0,236.0" fill="#f7f4d9" stroke="#000" stroke-width="0.6"/>
<polygon points="249.0,707.0 255.0,705.5 262.0,707.0 260.0,711.4 252.0,711.4" fill="#f7f4d9" stroke="#000" stroke-width="0.6"/>
<polygon points="743.0,278.0 747.0,276.0 749.0,280.0 745.0,283.0" fill="#f7f4d9" stroke="#000" stroke-width="0.6"/>
<polyline points="508.0,193.0 512.0,201.0 522.0,207.0 535.0,210.0 540.0,211.0" fill="none" stroke="#000" stroke-width="0.9"/>
<polyline points="720.4,212.5 735.0,245.0 750.0,275.0 762.6,295.3" fill="none" stroke="#000" stroke-width="0.9"/>
<polyline points="574.4,219.6 590.0,223.0 608.9,225.8" fill="none" stroke="#000" stroke-width="0.9"/>
<polyline points="241.3,76.7 242.4,79.5 244.6,85.7 248.0,87.4 250.8,89.1 250.8,93.0 252.0,97.5 255.4,102.6 260.4,105.4 262.7,108.8 266.1,117.8 268.3,121.2 272.8,125.7 276.2,128.5 281.8,131.3 284.1,133.6 286.3,144.9 287.5,150.5 290.8,156.1 294.2,164.0 294.8,169.6 293.2,175.6 292.7,180.1 295.5,184.6 293.8,190.3 291.5,197.0 288.2,201.5 286.5,206.1 288.2,209.4 285.9,217.3 284.8,224.1 285.9,233.1 287.0,239.9 287.0,246.6 289.9,251.1 289.9,261.3 285.9,262.4 283.7,264.6 289.3,270.0 291.1,272.0 293.0,278.4 299.4,279.7 297.5,287.3 299.4,290.5 308.4,293.7 317.3,297.0 326.3,299.5 330.1,296.9 329.5,291.2 332.7,289.3 339.1,293.7 342.9,289.9 349.3,286.1 358.3,280.3 369.8,279.7 380.0,283.5 386.4,289.9 390.3,297.6" fill="none" stroke="#000" stroke-width="0.7"/>
<polyline points="352.8,77.7 353.5,83.1 356.9,89.9 360.3,89.2 365.0,95.3 368.4,100.0 371.1,104.7 375.1,104.1 376.5,100.0 380.5,100.0 383.2,104.7 380.5,110.1 380.5,118.2 376.5,121.6 379.2,125.7 383.9,126.4 383.2,131.8 381.9,137.2 385.9,139.9 392.7,145.3 399.5,146.6 404.9,150.7 407.6,158.8 406.2,166.9 407.6,172.3 402.2,175.0 404.9,180.4 411.6,185.8 417.0,188.5" fill="none" stroke="#000" stroke-width="0.7"/>
<polyline points="417.0,191.2 407.6,191.2 400.8,192.6 396.8,188.5 391.4,183.1 387.3,187.2 380.5,188.5 376.5,181.8 372.4,181.8 368.4,187.2 364.3,183.1 361.6,191.2 357.6,191.2 358.9,183.1 357.6,175.7 350.8,177.7 344.1,181.8 340.0,187.2 339.0,195.0 341.0,203.0 344.0,210.0 342.0,218.0 341.0,227.0 340.0,227.5 328.7,230.8 327.6,234.2 328.7,241.0 324.2,244.4 323.1,247.7 317.5,248.9 316.3,253.4 313.0,253.9 311.3,258.5 313.0,263.5 311.8,270.0 305.8,272.0 295.6,271.4 292.4,273.9" fill="none" stroke="#000" stroke-width="0.7"/>
<polyline points="215.7,397.5 223.8,398.0 230.3,399.1 231.9,398.5 232.5,401.8 236.8,405.6 240.1,408.3 245.5,408.8 254.1,407.7 256.9,406.7 258.5,408.8 261.2,413.7 266.1,413.7 273.6,410.4 275.8,412.1 279.0,422.9 283.4,426.1 294.2,431.6 307.2,434.3 315.9,433.2 318.0,433.0" fill="none" stroke="#000" stroke-width="0.7"/>
<polyline points="216.0,578.0 225.0,577.7 231.8,578.9 238.5,583.4 245.0,590.0 250.9,594.6 258.8,589.0 267.8,590.1 281.3,589.0" fill="none" stroke="#000" stroke-width="0.7"/>
<path d="M279.4 77V717M344.3 77V717M409.2 77V717M474.1 77V717M539.0 77V717M603.9 77V717M668.8 77V717M733.7 77V717M798.6 77V717M216 675.0H801M216 588.2H801M216 500.1H801M216 410.4H801M216 319.3H801M216 226.6H801M216 132.1H801" stroke="#c8c8d0" stroke-opacity="0.45" stroke-width="0.65" stroke-dasharray="2.8,0.9" fill="none"/>
</g>
<rect x="214.4" y="75.5" width="587.9" height="642.6" fill="none" stroke="#000" stroke-width="2.7"/>
<text x="214.5" y="67.2" font-size="10.90" text-anchor="middle" textLength="26.4" lengthAdjust="spacingAndGlyphs" fill="#000">27&#176;E</text>
<text x="214.5" y="733.9" font-size="10.90" text-anchor="middle" textLength="26.4" lengthAdjust="spacingAndGlyphs" fill="#000">27&#176;E</text>
<text x="279.4" y="67.2" font-size="10.90" text-anchor="middle" textLength="26.4" lengthAdjust="spacingAndGlyphs" fill="#000">28&#176;E</text>
<text x="279.4" y="733.9" font-size="10.90" text-anchor="middle" textLength="26.4" lengthAdjust="spacingAndGlyphs" fill="#000">28&#176;E</text>
<text x="344.3" y="67.2" font-size="10.90" text-anchor="middle" textLength="26.4" lengthAdjust="spacingAndGlyphs" fill="#000">29&#176;E</text>
<text x="344.3" y="733.9" font-size="10.90" text-anchor="middle" textLength="26.4" lengthAdjust="spacingAndGlyphs" fill="#000">29&#176;E</text>
<text x="409.2" y="67.2" font-size="10.90" text-anchor="middle" textLength="26.4" lengthAdjust="spacingAndGlyphs" fill="#000">30&#176;E</text>
<text x="409.2" y="733.9" font-size="10.90" text-anchor="middle" textLength="26.4" lengthAdjust="spacingAndGlyphs" fill="#000">30&#176;E</text>
<text x="474.1" y="67.2" font-size="10.90" text-anchor="middle" textLength="26.4" lengthAdjust="spacingAndGlyphs" fill="#000">31&#176;E</text>
<text x="474.1" y="733.9" font-size="10.90" text-anchor="middle" textLength="26.4" lengthAdjust="spacingAndGlyphs" fill="#000">31&#176;E</text>
<text x="539.0" y="67.2" font-size="10.90" text-anchor="middle" textLength="26.4" lengthAdjust="spacingAndGlyphs" fill="#000">32&#176;E</text>
<text x="539.0" y="733.9" font-size="10.90" text-anchor="middle" textLength="26.4" lengthAdjust="spacingAndGlyphs" fill="#000">32&#176;E</text>
<text x="603.9" y="67.2" font-size="10.90" text-anchor="middle" textLength="26.4" lengthAdjust="spacingAndGlyphs" fill="#000">33&#176;E</text>
<text x="603.9" y="733.9" font-size="10.90" text-anchor="middle" textLength="26.4" lengthAdjust="spacingAndGlyphs" fill="#000">33&#176;E</text>
<text x="668.8" y="67.2" font-size="10.90" text-anchor="middle" textLength="26.4" lengthAdjust="spacingAndGlyphs" fill="#000">34&#176;E</text>
<text x="668.8" y="733.9" font-size="10.90" text-anchor="middle" textLength="26.4" lengthAdjust="spacingAndGlyphs" fill="#000">34&#176;E</text>
<text x="733.7" y="67.2" font-size="10.90" text-anchor="middle" textLength="26.4" lengthAdjust="spacingAndGlyphs" fill="#000">35&#176;E</text>
<text x="733.7" y="733.9" font-size="10.90" text-anchor="middle" textLength="26.4" lengthAdjust="spacingAndGlyphs" fill="#000">35&#176;E</text>
<text x="798.6" y="67.2" font-size="10.90" text-anchor="middle" textLength="26.4" lengthAdjust="spacingAndGlyphs" fill="#000">36&#176;E</text>
<text x="798.6" y="733.9" font-size="10.90" text-anchor="middle" textLength="26.4" lengthAdjust="spacingAndGlyphs" fill="#000">36&#176;E</text>
<text x="208.3" y="678.7" font-size="10.90" text-anchor="end" textLength="27.8" lengthAdjust="spacingAndGlyphs" fill="#000">41&#176;N</text>
<text x="807.3" y="678.7" font-size="10.90" text-anchor="start" textLength="27.8" lengthAdjust="spacingAndGlyphs" fill="#000">41&#176;N</text>
<text x="208.3" y="591.9" font-size="10.90" text-anchor="end" textLength="27.8" lengthAdjust="spacingAndGlyphs" fill="#000">42&#176;N</text>
<text x="807.3" y="591.9" font-size="10.90" text-anchor="start" textLength="27.8" lengthAdjust="spacingAndGlyphs" fill="#000">42&#176;N</text>
<text x="208.3" y="503.8" font-size="10.90" text-anchor="end" textLength="27.8" lengthAdjust="spacingAndGlyphs" fill="#000">43&#176;N</text>
<text x="807.3" y="503.8" font-size="10.90" text-anchor="start" textLength="27.8" lengthAdjust="spacingAndGlyphs" fill="#000">43&#176;N</text>
<text x="208.3" y="414.1" font-size="10.90" text-anchor="end" textLength="27.8" lengthAdjust="spacingAndGlyphs" fill="#000">44&#176;N</text>
<text x="807.3" y="414.1" font-size="10.90" text-anchor="start" textLength="27.8" lengthAdjust="spacingAndGlyphs" fill="#000">44&#176;N</text>
<text x="208.3" y="323.0" font-size="10.90" text-anchor="end" textLength="27.8" lengthAdjust="spacingAndGlyphs" fill="#000">45&#176;N</text>
<text x="807.3" y="323.0" font-size="10.90" text-anchor="start" textLength="27.8" lengthAdjust="spacingAndGlyphs" fill="#000">45&#176;N</text>
<text x="208.3" y="230.3" font-size="10.90" text-anchor="end" textLength="27.8" lengthAdjust="spacingAndGlyphs" fill="#000">46&#176;N</text>
<text x="807.3" y="230.3" font-size="10.90" text-anchor="start" textLength="27.8" lengthAdjust="spacingAndGlyphs" fill="#000">46&#176;N</text>
<text x="208.3" y="135.8" font-size="10.90" text-anchor="end" textLength="27.8" lengthAdjust="spacingAndGlyphs" fill="#000">47&#176;N</text>
<text x="807.3" y="135.8" font-size="10.90" text-anchor="start" textLength="27.8" lengthAdjust="spacingAndGlyphs" fill="#000">47&#176;N</text>
<text x="19.6" y="35.9" font-size="22.50" text-anchor="start" textLength="976.5" lengthAdjust="spacingAndGlyphs" fill="#000">Danube - WW3 - Wave Height and Direction - Run:20260127 12Z / Valid:20260131 15Z</text>
<text x="212.5" y="769.1" font-size="8.20" text-anchor="start" textLength="133.0" lengthAdjust="spacingAndGlyphs" fill="#000">&#169;Meteoroloji Genel Mudurlugu</text>
<rect x="214.00" y="782" width="25.75" height="32" fill="#0000ff"/>
<rect x="239.45" y="782" width="25.75" height="32" fill="#0033ff"/>
<rect x="264.90" y="782" width="25.75" height="32" fill="#0066ff"/>
<rect x="290.35" y="782" width="25.75" height="32" fill="#0099ff"/>
<rect x="315.80" y="782" width="25.75" height="32" fill="#00ccff"/>
<rect x="341.25" y="782" width="25.75" height="32" fill="#00ffff"/>
<rect x="366.70" y="782" width="25.75" height="32" fill="#00ffcc"/>
<rect x="392.15" y="782" width="25.75" height="32" fill="#00ff99"/>
<rect x="417.60" y="782" width="25.75" height="32" fill="#00ff66"/>
<rect x="443.05" y="782" width="25.75" height="32" fill="#00ff33"/>
<rect x="468.50" y="782" width="25.75" height="32" fill="#00ff00"/>
<rect x="493.95" y="782" width="25.75" height="32" fill="#33ff00"/>
<rect x="519.40" y="782" width="25.75" height="32" fill="#66ff00"/>
<rect x="544.85" y="782" width="25.75" height="32" fill="#99ff00"/>
<rect x="570.30" y="782" width="25.75" height="32" fill="#ccff00"/>
<rect x="595.75" y="782" width="25.75" height="32" fill="#ffff00"/>
<rect x="621.20" y="782" width="25.75" height="32" fill="#ffcc00"/>
<rect x="646.65" y="782" width="25.75" height="32" fill="#ff9900"/>
<rect x="672.10" y="782" width="25.75" height="32" fill="#ff6600"/>
<rect x="697.55" y="782" width="25.75" height="32" fill="#ff3300"/>
<rect x="723.00" y="782" width="25.75" height="32" fill="#ff0000"/>
<polygon points="748.45,782 773.90,782 802.4,798 773.90,814 748.45,814" fill="#ff66ff"/>
<polygon points="214.1,782.1 773.90,782.1 802.4,798 773.90,813.9 214.1,813.9" fill="none" stroke="#000" stroke-width="2"/>
<path d="M214.00 814V824M239.45 814V824M264.90 814V824M290.35 814V824M315.80 814V824M341.25 814V824M366.70 814V824M392.15 814V824M417.60 814V824M443.05 814V824M468.50 814V824M493.95 814V824M519.40 814V824M544.85 814V824M570.30 814V824M595.75 814V824M621.20 814V824M646.65 814V824M672.10 814V824M697.55 814V824M723.00 814V824M748.45 814V824M773.90 814V824" stroke="#000" stroke-width="1.8"/>
<text x="214.0" y="842.1" font-size="9.90" text-anchor="middle" textLength="11.6" lengthAdjust="spacingAndGlyphs" fill="#000">0.0</text>
<text x="239.4" y="842.1" font-size="9.90" text-anchor="middle" textLength="11.6" lengthAdjust="spacingAndGlyphs" fill="#000">0.2</text>
<text x="264.9" y="842.1" font-size="9.90" text-anchor="middle" textLength="11.6" lengthAdjust="spacingAndGlyphs" fill="#000">0.5</text>
<text x="290.4" y="842.1" font-size="9.90" text-anchor="middle" textLength="11.6" lengthAdjust="spacingAndGlyphs" fill="#000">0.7</text>
<text x="315.8" y="842.1" font-size="9.90" text-anchor="middle" textLength="11.6" lengthAdjust="spacingAndGlyphs" fill="#000">1.0</text>
<text x="341.2" y="842.1" font-size="9.90" text-anchor="middle" textLength="11.6" lengthAdjust="spacingAndGlyphs" fill="#000">1.2</text>
<text x="366.7" y="842.1" font-size="9.90" text-anchor="middle" textLength="11.6" lengthAdjust="spacingAndGlyphs" fill="#000">1.4</text>
<text x="392.1" y="842.1" font-size="9.90" text-anchor="middle" textLength="11.6" lengthAdjust="spacingAndGlyphs" fill="#000">1.7</text>
<text x="417.6" y="842.1" font-size="9.90" text-anchor="middle" textLength="11.6" lengthAdjust="spacingAndGlyphs" fill="#000">1.9</text>
<text x="443.0" y="842.1" font-size="9.90" text-anchor="middle" textLength="11.6" lengthAdjust="spacingAndGlyphs" fill="#000">2.1</text>
<text x="468.5" y="842.1" font-size="9.90" text-anchor="middle" textLength="11.6" lengthAdjust="spacingAndGlyphs" fill="#000">2.4</text>
<text x="493.9" y="842.1" font-size="9.90" text-anchor="middle" textLength="11.6" lengthAdjust="spacingAndGlyphs" fill="#000">2.6</text>
<text x="519.4" y="842.1" font-size="9.90" text-anchor="middle" textLength="11.6" lengthAdjust="spacingAndGlyphs" fill="#000">2.9</text>
<text x="544.8" y="842.1" font-size="9.90" text-anchor="middle" textLength="11.6" lengthAdjust="spacingAndGlyphs" fill="#000">3.1</text>
<text x="570.3" y="842.1" font-size="9.90" text-anchor="middle" textLength="11.6" lengthAdjust="spacingAndGlyphs" fill="#000">3.3</text>
<text x="595.8" y="842.1" font-size="9.90" text-anchor="middle" textLength="11.6" lengthAdjust="spacingAndGlyphs" fill="#000">3.6</text>
<text x="621.2" y="842.1" font-size="9.90" text-anchor="middle" textLength="11.6" lengthAdjust="spacingAndGlyphs" fill="#000">3.8</text>
<text x="646.6" y="842.1" font-size="9.90" text-anchor="middle" textLength="11.6" lengthAdjust="spacingAndGlyphs" fill="#000">4.0</text>
<text x="672.1" y="842.1" font-size="9.90" text-anchor="middle" textLength="11.6" lengthAdjust="spacingAndGlyphs" fill="#000">4.3</text>
<text x="697.5" y="842.1" font-size="9.90" text-anchor="middle" textLength="11.6" lengthAdjust="spacingAndGlyphs" fill="#000">4.5</text>
<text x="723.0" y="842.1" font-size="9.90" text-anchor="middle" textLength="11.6" lengthAdjust="spacingAndGlyphs" fill="#000">4.8</text>
<text x="748.4" y="842.1" font-size="9.90" text-anchor="middle" textLength="11.6" lengthAdjust="spacingAndGlyphs" fill="#000">5.0</text>
<text x="773.9" y="842.1" font-size="9.90" text-anchor="middle" textLength="11.6" lengthAdjust="spacingAndGlyphs" fill="#000">5.2</text>
<text x="508.0" y="865.7" font-size="14.00" text-anchor="middle" textLength="117.0" lengthAdjust="spacingAndGlyphs" fill="#000">Wave Height (m)</text>
</svg>
</body></html>
